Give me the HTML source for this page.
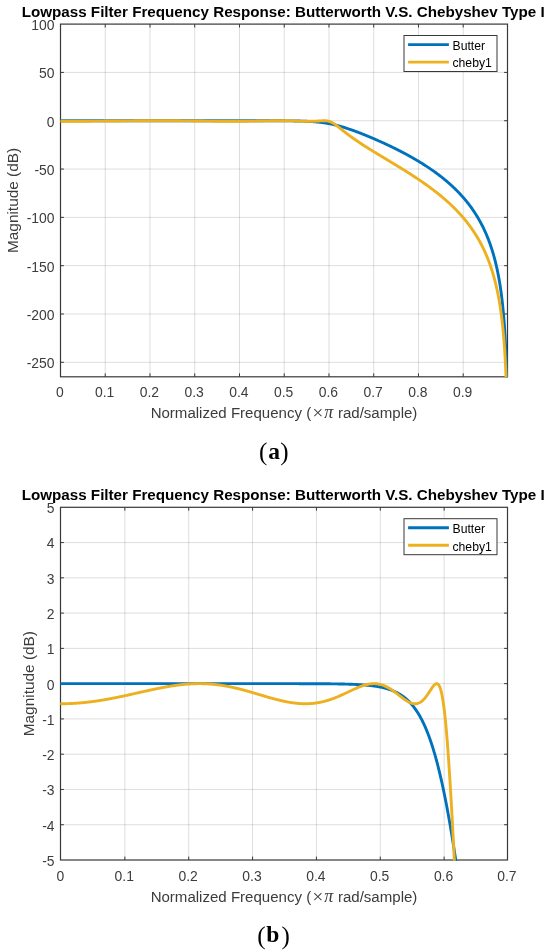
<!DOCTYPE html>
<html><head><meta charset="utf-8"><title>Lowpass Filter Frequency Response</title>
<style>
html,body{margin:0;padding:0;background:#fff}
svg{display:block}
text{font-family:"Liberation Sans",sans-serif;fill:#3c3c3c}
.tk{font-size:13.9px}
.lb{font-size:15.05px}
.yl{font-size:15.4px}
.lg{font-size:12.2px;fill:#000}
.ti{font-size:15.2px;font-weight:bold;fill:#000}
.tx{font-family:"Liberation Serif",serif;font-size:19px}
.pi{font-family:"Liberation Serif","DejaVu Serif",serif;font-style:italic;font-size:18px}
.cp{font-family:"Liberation Serif",serif;font-size:23.5px;fill:#000}
.cpb{font-weight:bold}
.cpp{font-size:25px}
</style></head><body>
<svg width="550" height="952" viewBox="0 0 550 952">
<rect width="550" height="952" fill="#fff"/>
<clipPath id="c0"><rect x="59.9" y="23.5" width="448.4" height="354.0"/></clipPath>
<path d="M105.24,24.1V376.8M149.99,24.1V376.8M194.73,24.1V376.8M239.48,24.1V376.8M284.22,24.1V376.8M328.97,24.1V376.8M373.71,24.1V376.8M418.46,24.1V376.8M463.20,24.1V376.8" stroke="#000" stroke-opacity="0.16" stroke-width="0.85" fill="none"/>
<path d="M60.5,72.42H507.5M60.5,120.73H507.5M60.5,169.05H507.5M60.5,217.36H507.5M60.5,265.68H507.5M60.5,313.99H507.5M60.5,362.31H507.5" stroke="#000" stroke-opacity="0.16" stroke-width="0.85" fill="none"/>
<path d="M105.24,376.8v-3.4M105.24,24.1v3.4M149.99,376.8v-3.4M149.99,24.1v3.4M194.73,376.8v-3.4M194.73,24.1v3.4M239.48,376.8v-3.4M239.48,24.1v3.4M284.22,376.8v-3.4M284.22,24.1v3.4M328.97,376.8v-3.4M328.97,24.1v3.4M373.71,376.8v-3.4M373.71,24.1v3.4M418.46,376.8v-3.4M418.46,24.1v3.4M463.20,376.8v-3.4M463.20,24.1v3.4M60.5,72.42h3.4M507.5,72.42h-3.4M60.5,120.73h3.4M507.5,120.73h-3.4M60.5,169.05h3.4M507.5,169.05h-3.4M60.5,217.36h3.4M507.5,217.36h-3.4M60.5,265.68h3.4M507.5,265.68h-3.4M60.5,313.99h3.4M507.5,313.99h-3.4M60.5,362.31h3.4M507.5,362.31h-3.4" stroke="#383838" stroke-width="1" fill="none"/>
<rect x="60.5" y="24.1" width="447.0" height="352.7" fill="none" stroke="#383838" stroke-width="1.2"/>
<path clip-path="url(#c0)" d="M60.50,120.73 L60.87,120.73 L61.24,120.73 L61.61,120.73 L61.98,120.73 L62.35,120.73 L62.72,120.73 L63.09,120.73 L63.46,120.73 L63.83,120.73 L64.19,120.73 L64.56,120.73 L64.93,120.73 L65.30,120.73 L65.67,120.73 L66.04,120.73 L66.41,120.73 L66.78,120.73 L67.15,120.73 L67.52,120.73 L67.89,120.73 L68.26,120.73 L68.63,120.73 L69.00,120.73 L69.37,120.73 L69.74,120.73 L70.11,120.73 L70.48,120.73 L70.84,120.73 L71.21,120.73 L71.58,120.73 L71.95,120.73 L72.32,120.73 L72.69,120.73 L73.06,120.73 L73.43,120.73 L73.80,120.73 L74.17,120.73 L74.54,120.73 L74.91,120.73 L75.28,120.73 L75.65,120.73 L76.02,120.73 L76.39,120.73 L76.76,120.73 L77.13,120.73 L77.49,120.73 L77.86,120.73 L78.23,120.73 L78.60,120.73 L78.97,120.73 L79.34,120.73 L79.71,120.73 L80.08,120.73 L80.45,120.73 L80.82,120.73 L81.19,120.73 L81.56,120.73 L81.93,120.73 L82.30,120.73 L82.67,120.73 L83.04,120.73 L83.41,120.73 L83.78,120.73 L84.14,120.73 L84.51,120.73 L84.88,120.73 L85.25,120.73 L85.62,120.73 L85.99,120.73 L86.36,120.73 L86.73,120.73 L87.10,120.73 L87.47,120.73 L87.84,120.73 L88.21,120.73 L88.58,120.73 L88.95,120.73 L89.32,120.73 L89.69,120.73 L90.06,120.73 L90.43,120.73 L90.80,120.73 L91.16,120.73 L91.53,120.73 L91.90,120.73 L92.27,120.73 L92.64,120.73 L93.01,120.73 L93.38,120.73 L93.75,120.73 L94.12,120.73 L94.49,120.73 L94.86,120.73 L95.23,120.73 L95.60,120.73 L95.97,120.73 L96.34,120.73 L96.71,120.73 L97.08,120.73 L97.45,120.73 L97.81,120.73 L98.18,120.73 L98.55,120.73 L98.92,120.73 L99.29,120.73 L99.66,120.73 L100.03,120.73 L100.40,120.73 L100.77,120.73 L101.14,120.73 L101.51,120.73 L101.88,120.73 L102.25,120.73 L102.62,120.73 L102.99,120.73 L103.36,120.73 L103.73,120.73 L104.10,120.73 L104.46,120.73 L104.83,120.73 L105.20,120.73 L105.57,120.73 L105.94,120.73 L106.31,120.73 L106.68,120.73 L107.05,120.73 L107.42,120.73 L107.79,120.73 L108.16,120.73 L108.53,120.73 L108.90,120.73 L109.27,120.73 L109.64,120.73 L110.01,120.73 L110.38,120.73 L110.75,120.73 L111.11,120.73 L111.48,120.73 L111.85,120.73 L112.22,120.73 L112.59,120.73 L112.96,120.73 L113.33,120.73 L113.70,120.73 L114.07,120.73 L114.44,120.73 L114.81,120.73 L115.18,120.73 L115.55,120.73 L115.92,120.73 L116.29,120.73 L116.66,120.73 L117.03,120.73 L117.40,120.73 L117.77,120.73 L118.13,120.73 L118.50,120.73 L118.87,120.73 L119.24,120.73 L119.61,120.73 L119.98,120.73 L120.35,120.73 L120.72,120.73 L121.09,120.73 L121.46,120.73 L121.83,120.73 L122.20,120.73 L122.57,120.73 L122.94,120.73 L123.31,120.73 L123.68,120.73 L124.05,120.73 L124.42,120.73 L124.78,120.73 L125.15,120.73 L125.52,120.73 L125.89,120.73 L126.26,120.73 L126.63,120.73 L127.00,120.73 L127.37,120.73 L127.74,120.73 L128.11,120.73 L128.48,120.73 L128.85,120.73 L129.22,120.73 L129.59,120.73 L129.96,120.73 L130.33,120.73 L130.70,120.73 L131.07,120.73 L131.43,120.73 L131.80,120.73 L132.17,120.73 L132.54,120.73 L132.91,120.73 L133.28,120.73 L133.65,120.73 L134.02,120.73 L134.39,120.73 L134.76,120.73 L135.13,120.73 L135.50,120.73 L135.87,120.73 L136.24,120.73 L136.61,120.73 L136.98,120.73 L137.35,120.73 L137.72,120.73 L138.08,120.73 L138.45,120.73 L138.82,120.73 L139.19,120.73 L139.56,120.73 L139.93,120.73 L140.30,120.73 L140.67,120.73 L141.04,120.73 L141.41,120.73 L141.78,120.73 L142.15,120.73 L142.52,120.73 L142.89,120.73 L143.26,120.73 L143.63,120.73 L144.00,120.73 L144.37,120.73 L144.74,120.73 L145.10,120.73 L145.47,120.73 L145.84,120.73 L146.21,120.73 L146.58,120.73 L146.95,120.73 L147.32,120.73 L147.69,120.73 L148.06,120.73 L148.43,120.73 L148.80,120.73 L149.17,120.73 L149.54,120.73 L149.91,120.73 L150.28,120.73 L150.65,120.73 L151.02,120.73 L151.39,120.73 L151.75,120.73 L152.12,120.73 L152.49,120.73 L152.86,120.73 L153.23,120.73 L153.60,120.73 L153.97,120.73 L154.34,120.73 L154.71,120.73 L155.08,120.73 L155.45,120.73 L155.82,120.73 L156.19,120.73 L156.56,120.73 L156.93,120.73 L157.30,120.73 L157.67,120.73 L158.04,120.73 L158.40,120.73 L158.77,120.73 L159.14,120.73 L159.51,120.73 L159.88,120.73 L160.25,120.73 L160.62,120.73 L160.99,120.73 L161.36,120.73 L161.73,120.73 L162.10,120.73 L162.47,120.73 L162.84,120.73 L163.21,120.73 L163.58,120.73 L163.95,120.73 L164.32,120.73 L164.69,120.73 L165.05,120.73 L165.42,120.73 L165.79,120.73 L166.16,120.73 L166.53,120.73 L166.90,120.73 L167.27,120.73 L167.64,120.73 L168.01,120.73 L168.38,120.73 L168.75,120.73 L169.12,120.73 L169.49,120.73 L169.86,120.73 L170.23,120.73 L170.60,120.73 L170.97,120.73 L171.34,120.73 L171.71,120.73 L172.07,120.73 L172.44,120.73 L172.81,120.73 L173.18,120.73 L173.55,120.73 L173.92,120.73 L174.29,120.73 L174.66,120.73 L175.03,120.73 L175.40,120.73 L175.77,120.73 L176.14,120.73 L176.51,120.73 L176.88,120.73 L177.25,120.73 L177.62,120.73 L177.99,120.73 L178.36,120.73 L178.72,120.73 L179.09,120.73 L179.46,120.73 L179.83,120.73 L180.20,120.73 L180.57,120.73 L180.94,120.73 L181.31,120.73 L181.68,120.73 L182.05,120.73 L182.42,120.73 L182.79,120.73 L183.16,120.73 L183.53,120.73 L183.90,120.73 L184.27,120.73 L184.64,120.73 L185.01,120.73 L185.37,120.73 L185.74,120.73 L186.11,120.73 L186.48,120.73 L186.85,120.73 L187.22,120.73 L187.59,120.73 L187.96,120.73 L188.33,120.73 L188.70,120.73 L189.07,120.73 L189.44,120.73 L189.81,120.73 L190.18,120.73 L190.55,120.73 L190.92,120.73 L191.29,120.73 L191.66,120.73 L192.02,120.73 L192.39,120.73 L192.76,120.73 L193.13,120.73 L193.50,120.73 L193.87,120.73 L194.24,120.73 L194.61,120.73 L194.98,120.73 L195.35,120.73 L195.72,120.73 L196.09,120.73 L196.46,120.73 L196.83,120.73 L197.20,120.73 L197.57,120.73 L197.94,120.73 L198.31,120.73 L198.68,120.73 L199.04,120.73 L199.41,120.73 L199.78,120.73 L200.15,120.73 L200.52,120.73 L200.89,120.73 L201.26,120.73 L201.63,120.73 L202.00,120.73 L202.37,120.73 L202.74,120.73 L203.11,120.73 L203.48,120.73 L203.85,120.73 L204.22,120.73 L204.59,120.73 L204.96,120.73 L205.33,120.73 L205.69,120.73 L206.06,120.73 L206.43,120.73 L206.80,120.73 L207.17,120.73 L207.54,120.73 L207.91,120.73 L208.28,120.73 L208.65,120.73 L209.02,120.73 L209.39,120.73 L209.76,120.73 L210.13,120.73 L210.50,120.73 L210.87,120.73 L211.24,120.73 L211.61,120.73 L211.98,120.73 L212.34,120.73 L212.71,120.73 L213.08,120.73 L213.45,120.73 L213.82,120.73 L214.19,120.73 L214.56,120.73 L214.93,120.73 L215.30,120.73 L215.67,120.73 L216.04,120.73 L216.41,120.73 L216.78,120.73 L217.15,120.73 L217.52,120.73 L217.89,120.73 L218.26,120.73 L218.63,120.73 L218.99,120.73 L219.36,120.73 L219.73,120.73 L220.10,120.73 L220.47,120.73 L220.84,120.73 L221.21,120.73 L221.58,120.73 L221.95,120.73 L222.32,120.73 L222.69,120.73 L223.06,120.73 L223.43,120.73 L223.80,120.73 L224.17,120.73 L224.54,120.73 L224.91,120.73 L225.28,120.73 L225.65,120.73 L226.01,120.73 L226.38,120.73 L226.75,120.73 L227.12,120.73 L227.49,120.73 L227.86,120.73 L228.23,120.73 L228.60,120.73 L228.97,120.73 L229.34,120.73 L229.71,120.73 L230.08,120.73 L230.45,120.73 L230.82,120.73 L231.19,120.73 L231.56,120.73 L231.93,120.73 L232.30,120.73 L232.66,120.73 L233.03,120.73 L233.40,120.73 L233.77,120.73 L234.14,120.73 L234.51,120.73 L234.88,120.73 L235.25,120.73 L235.62,120.73 L235.99,120.73 L236.36,120.73 L236.73,120.73 L237.10,120.73 L237.47,120.73 L237.84,120.73 L238.21,120.73 L238.58,120.73 L238.95,120.73 L239.31,120.73 L239.68,120.73 L240.05,120.73 L240.42,120.73 L240.79,120.73 L241.16,120.73 L241.53,120.73 L241.90,120.73 L242.27,120.73 L242.64,120.73 L243.01,120.73 L243.38,120.73 L243.75,120.73 L244.12,120.73 L244.49,120.73 L244.86,120.73 L245.23,120.73 L245.60,120.73 L245.96,120.73 L246.33,120.73 L246.70,120.73 L247.07,120.73 L247.44,120.73 L247.81,120.73 L248.18,120.73 L248.55,120.73 L248.92,120.73 L249.29,120.73 L249.66,120.73 L250.03,120.74 L250.40,120.74 L250.77,120.74 L251.14,120.74 L251.51,120.74 L251.88,120.74 L252.25,120.74 L252.62,120.74 L252.98,120.74 L253.35,120.74 L253.72,120.74 L254.09,120.74 L254.46,120.74 L254.83,120.74 L255.20,120.74 L255.57,120.74 L255.94,120.74 L256.31,120.74 L256.68,120.74 L257.05,120.74 L257.42,120.74 L257.79,120.74 L258.16,120.74 L258.53,120.74 L258.90,120.74 L259.27,120.74 L259.63,120.74 L260.00,120.74 L260.37,120.74 L260.74,120.74 L261.11,120.74 L261.48,120.74 L261.85,120.74 L262.22,120.74 L262.59,120.74 L262.96,120.75 L263.33,120.75 L263.70,120.75 L264.07,120.75 L264.44,120.75 L264.81,120.75 L265.18,120.75 L265.55,120.75 L265.92,120.75 L266.28,120.75 L266.65,120.75 L267.02,120.75 L267.39,120.75 L267.76,120.75 L268.13,120.75 L268.50,120.75 L268.87,120.75 L269.24,120.76 L269.61,120.76 L269.98,120.76 L270.35,120.76 L270.72,120.76 L271.09,120.76 L271.46,120.76 L271.83,120.76 L272.20,120.76 L272.57,120.76 L272.93,120.77 L273.30,120.77 L273.67,120.77 L274.04,120.77 L274.41,120.77 L274.78,120.77 L275.15,120.77 L275.52,120.77 L275.89,120.77 L276.26,120.78 L276.63,120.78 L277.00,120.78 L277.37,120.78 L277.74,120.78 L278.11,120.78 L278.48,120.79 L278.85,120.79 L279.22,120.79 L279.59,120.79 L279.95,120.79 L280.32,120.79 L280.69,120.80 L281.06,120.80 L281.43,120.80 L281.80,120.80 L282.17,120.81 L282.54,120.81 L282.91,120.81 L283.28,120.81 L283.65,120.82 L284.02,120.82 L284.39,120.82 L284.76,120.82 L285.13,120.83 L285.50,120.83 L285.87,120.83 L286.24,120.84 L286.60,120.84 L286.97,120.84 L287.34,120.85 L287.71,120.85 L288.08,120.85 L288.45,120.86 L288.82,120.86 L289.19,120.87 L289.56,120.87 L289.93,120.87 L290.30,120.88 L290.67,120.88 L291.04,120.89 L291.41,120.89 L291.78,120.90 L292.15,120.90 L292.52,120.91 L292.89,120.91 L293.25,120.92 L293.62,120.93 L293.99,120.93 L294.36,120.94 L294.73,120.94 L295.10,120.95 L295.47,120.96 L295.84,120.97 L296.21,120.97 L296.58,120.98 L296.95,120.99 L297.32,121.00 L297.69,121.00 L298.06,121.01 L298.43,121.02 L298.80,121.03 L299.17,121.04 L299.54,121.05 L299.90,121.06 L300.27,121.07 L300.64,121.08 L301.01,121.09 L301.38,121.10 L301.75,121.11 L302.12,121.12 L302.49,121.13 L302.86,121.15 L303.23,121.16 L303.60,121.17 L303.97,121.19 L304.34,121.20 L304.71,121.21 L305.08,121.23 L305.45,121.24 L305.82,121.26 L306.19,121.28 L306.56,121.29 L306.92,121.31 L307.29,121.33 L307.66,121.34 L308.03,121.36 L308.40,121.38 L308.77,121.40 L309.14,121.42 L309.51,121.44 L309.88,121.46 L310.25,121.48 L310.62,121.50 L310.99,121.53 L311.36,121.55 L311.73,121.57 L312.10,121.60 L312.47,121.62 L312.84,121.65 L313.21,121.68 L313.57,121.70 L313.94,121.73 L314.31,121.76 L314.68,121.79 L315.05,121.82 L315.42,121.85 L315.79,121.88 L316.16,121.92 L316.53,121.95 L316.90,121.98 L317.27,122.02 L317.64,122.05 L318.01,122.09 L318.38,122.13 L318.75,122.17 L319.12,122.21 L319.49,122.25 L319.86,122.29 L320.22,122.33 L320.59,122.37 L320.96,122.42 L321.33,122.46 L321.70,122.51 L322.07,122.56 L322.44,122.60 L322.81,122.65 L323.18,122.70 L323.55,122.76 L323.92,122.81 L324.29,122.86 L324.66,122.92 L325.03,122.97 L325.40,123.03 L325.77,123.09 L326.14,123.15 L326.51,123.21 L326.87,123.27 L327.24,123.33 L327.61,123.40 L327.98,123.46 L328.35,123.53 L328.72,123.59 L329.09,123.66 L329.46,123.73 L329.83,123.80 L330.20,123.87 L330.57,123.95 L330.94,124.02 L331.31,124.10 L331.68,124.17 L332.05,124.25 L332.42,124.33 L332.79,124.41 L333.16,124.49 L333.53,124.58 L333.89,124.66 L334.26,124.75 L334.63,124.83 L335.00,124.92 L335.37,125.01 L335.74,125.10 L336.11,125.19 L336.48,125.28 L336.85,125.37 L337.22,125.47 L337.59,125.56 L337.96,125.66 L338.33,125.76 L338.70,125.86 L339.07,125.96 L339.44,126.06 L339.81,126.16 L340.18,126.26 L340.54,126.37 L340.91,126.47 L341.28,126.58 L341.65,126.68 L342.02,126.79 L342.39,126.90 L342.76,127.01 L343.13,127.12 L343.50,127.24 L343.87,127.35 L344.24,127.46 L344.61,127.58 L344.98,127.69 L345.35,127.81 L345.72,127.93 L346.09,128.05 L346.46,128.16 L346.83,128.28 L347.19,128.41 L347.56,128.53 L347.93,128.65 L348.30,128.77 L348.67,128.90 L349.04,129.02 L349.41,129.15 L349.78,129.27 L350.15,129.40 L350.52,129.53 L350.89,129.66 L351.26,129.79 L351.63,129.92 L352.00,130.05 L352.37,130.18 L352.74,130.31 L353.11,130.44 L353.48,130.58 L353.84,130.71 L354.21,130.85 L354.58,130.98 L354.95,131.12 L355.32,131.25 L355.69,131.39 L356.06,131.53 L356.43,131.67 L356.80,131.80 L357.17,131.94 L357.54,132.08 L357.91,132.22 L358.28,132.36 L358.65,132.51 L359.02,132.65 L359.39,132.79 L359.76,132.93 L360.13,133.08 L360.50,133.22 L360.86,133.36 L361.23,133.51 L361.60,133.65 L361.97,133.80 L362.34,133.95 L362.71,134.09 L363.08,134.24 L363.45,134.39 L363.82,134.54 L364.19,134.68 L364.56,134.83 L364.93,134.98 L365.30,135.13 L365.67,135.28 L366.04,135.43 L366.41,135.59 L366.78,135.74 L367.15,135.89 L367.51,136.04 L367.88,136.19 L368.25,136.35 L368.62,136.50 L368.99,136.65 L369.36,136.81 L369.73,136.96 L370.10,137.12 L370.47,137.27 L370.84,137.43 L371.21,137.59 L371.58,137.74 L371.95,137.90 L372.32,138.06 L372.69,138.22 L373.06,138.37 L373.43,138.53 L373.80,138.69 L374.16,138.85 L374.53,139.01 L374.90,139.17 L375.27,139.33 L375.64,139.49 L376.01,139.66 L376.38,139.82 L376.75,139.98 L377.12,140.14 L377.49,140.31 L377.86,140.47 L378.23,140.63 L378.60,140.80 L378.97,140.96 L379.34,141.13 L379.71,141.29 L380.08,141.46 L380.45,141.62 L380.81,141.79 L381.18,141.96 L381.55,142.12 L381.92,142.29 L382.29,142.46 L382.66,142.63 L383.03,142.80 L383.40,142.97 L383.77,143.13 L384.14,143.30 L384.51,143.48 L384.88,143.65 L385.25,143.82 L385.62,143.99 L385.99,144.16 L386.36,144.33 L386.73,144.51 L387.10,144.68 L387.47,144.85 L387.83,145.03 L388.20,145.20 L388.57,145.38 L388.94,145.55 L389.31,145.73 L389.68,145.90 L390.05,146.08 L390.42,146.26 L390.79,146.44 L391.16,146.61 L391.53,146.79 L391.90,146.97 L392.27,147.15 L392.64,147.33 L393.01,147.51 L393.38,147.69 L393.75,147.87 L394.12,148.06 L394.48,148.24 L394.85,148.42 L395.22,148.60 L395.59,148.79 L395.96,148.97 L396.33,149.16 L396.70,149.34 L397.07,149.53 L397.44,149.71 L397.81,149.90 L398.18,150.09 L398.55,150.27 L398.92,150.46 L399.29,150.65 L399.66,150.84 L400.03,151.03 L400.40,151.22 L400.77,151.41 L401.13,151.60 L401.50,151.79 L401.87,151.99 L402.24,152.18 L402.61,152.37 L402.98,152.57 L403.35,152.76 L403.72,152.96 L404.09,153.15 L404.46,153.35 L404.83,153.54 L405.20,153.74 L405.57,153.94 L405.94,154.14 L406.31,154.34 L406.68,154.54 L407.05,154.74 L407.42,154.94 L407.78,155.14 L408.15,155.34 L408.52,155.55 L408.89,155.75 L409.26,155.95 L409.63,156.16 L410.00,156.36 L410.37,156.57 L410.74,156.78 L411.11,156.98 L411.48,157.19 L411.85,157.40 L412.22,157.61 L412.59,157.82 L412.96,158.03 L413.33,158.24 L413.70,158.45 L414.07,158.67 L414.44,158.88 L414.80,159.10 L415.17,159.31 L415.54,159.53 L415.91,159.74 L416.28,159.96 L416.65,160.18 L417.02,160.40 L417.39,160.62 L417.76,160.84 L418.13,161.06 L418.50,161.28 L418.87,161.50 L419.24,161.73 L419.61,161.95 L419.98,162.18 L420.35,162.40 L420.72,162.63 L421.09,162.86 L421.45,163.08 L421.82,163.31 L422.19,163.54 L422.56,163.78 L422.93,164.01 L423.30,164.24 L423.67,164.47 L424.04,164.71 L424.41,164.94 L424.78,165.18 L425.15,165.42 L425.52,165.66 L425.89,165.90 L426.26,166.14 L426.63,166.38 L427.00,166.62 L427.37,166.86 L427.74,167.11 L428.10,167.35 L428.47,167.60 L428.84,167.85 L429.21,168.09 L429.58,168.34 L429.95,168.59 L430.32,168.84 L430.69,169.10 L431.06,169.35 L431.43,169.61 L431.80,169.86 L432.17,170.12 L432.54,170.38 L432.91,170.64 L433.28,170.90 L433.65,171.16 L434.02,171.42 L434.39,171.68 L434.75,171.95 L435.12,172.22 L435.49,172.48 L435.86,172.75 L436.23,173.02 L436.60,173.29 L436.97,173.57 L437.34,173.84 L437.71,174.12 L438.08,174.39 L438.45,174.67 L438.82,174.95 L439.19,175.23 L439.56,175.51 L439.93,175.80 L440.30,176.08 L440.67,176.37 L441.04,176.65 L441.41,176.94 L441.77,177.23 L442.14,177.53 L442.51,177.82 L442.88,178.12 L443.25,178.41 L443.62,178.71 L443.99,179.01 L444.36,179.31 L444.73,179.62 L445.10,179.92 L445.47,180.23 L445.84,180.54 L446.21,180.85 L446.58,181.16 L446.95,181.47 L447.32,181.79 L447.69,182.11 L448.06,182.42 L448.42,182.75 L448.79,183.07 L449.16,183.39 L449.53,183.72 L449.90,184.05 L450.27,184.38 L450.64,184.71 L451.01,185.05 L451.38,185.38 L451.75,185.72 L452.12,186.06 L452.49,186.40 L452.86,186.75 L453.23,187.10 L453.60,187.45 L453.97,187.80 L454.34,188.15 L454.71,188.51 L455.07,188.87 L455.44,189.23 L455.81,189.59 L456.18,189.96 L456.55,190.33 L456.92,190.70 L457.29,191.07 L457.66,191.45 L458.03,191.83 L458.40,192.21 L458.77,192.60 L459.14,192.98 L459.51,193.37 L459.88,193.77 L460.25,194.16 L460.62,194.56 L460.99,194.96 L461.36,195.37 L461.72,195.78 L462.09,196.19 L462.46,196.60 L462.83,197.02 L463.20,197.44 L463.57,197.87 L463.94,198.29 L464.31,198.72 L464.68,199.16 L465.05,199.60 L465.42,200.04 L465.79,200.49 L466.16,200.94 L466.53,201.39 L466.90,201.85 L467.27,202.31 L467.64,202.77 L468.01,203.24 L468.38,203.72 L468.74,204.20 L469.11,204.68 L469.48,205.17 L469.85,205.66 L470.22,206.16 L470.59,206.66 L470.96,207.16 L471.33,207.67 L471.70,208.19 L472.07,208.71 L472.44,209.24 L472.81,209.77 L473.18,210.31 L473.55,210.85 L473.92,211.40 L474.29,211.96 L474.66,212.52 L475.03,213.08 L475.39,213.66 L475.76,214.24 L476.13,214.82 L476.50,215.42 L476.87,216.02 L477.24,216.62 L477.61,217.24 L477.98,217.86 L478.35,218.49 L478.72,219.13 L479.09,219.77 L479.46,220.42 L479.83,221.09 L480.20,221.76 L480.57,222.44 L480.94,223.12 L481.31,223.82 L481.68,224.53 L482.04,225.25 L482.41,225.97 L482.78,226.71 L483.15,227.46 L483.52,228.22 L483.89,228.99 L484.26,229.77 L484.63,230.57 L485.00,231.38 L485.37,232.20 L485.74,233.03 L486.11,233.88 L486.48,234.74 L486.85,235.62 L487.22,236.51 L487.59,237.42 L487.96,238.35 L488.33,239.29 L488.69,240.25 L489.06,241.23 L489.43,242.23 L489.80,243.24 L490.17,244.28 L490.54,245.34 L490.91,246.43 L491.28,247.53 L491.65,248.66 L492.02,249.82 L492.39,251.01 L492.76,252.22 L493.13,253.46 L493.50,254.74 L493.87,256.04 L494.24,257.38 L494.61,258.76 L494.98,260.18 L495.35,261.63 L495.71,263.13 L496.08,264.68 L496.45,266.28 L496.82,267.92 L497.19,269.62 L497.56,271.39 L497.93,273.21 L498.30,275.11 L498.67,277.07 L499.04,279.12 L499.41,281.26 L499.78,283.49 L500.15,285.82 L500.52,288.26 L500.89,290.83 L501.26,293.54 L501.63,296.40 L502.00,299.43 L502.36,302.66 L502.73,306.11 L503.10,309.81 L503.47,313.81 L503.47,313.81 L503.63,315.55 L503.77,317.30 L503.91,319.04 L504.05,320.79 L504.18,322.53 L504.31,324.27 L504.44,326.02 L504.56,327.76 L504.67,329.50 L504.78,331.25 L504.89,332.99 L504.99,334.74 L505.09,336.48 L505.19,338.22 L505.29,339.97 L505.38,341.71 L505.46,343.46 L505.55,345.20 L505.63,346.94 L505.71,348.69 L505.78,350.43 L505.86,352.17 L505.93,353.92 L506.00,355.66 L506.06,357.41 L506.13,359.15 L506.19,360.89 L506.25,362.64 L506.31,364.38 L506.36,366.12 L506.42,367.87 L506.47,369.61 L506.52,371.36 L506.57,373.10 L506.62,374.84 L506.66,376.59 L506.70,378.33 L506.75,380.07 L506.79,381.82 L506.83,383.56 L506.87,385.31 L506.90,387.05 L506.94,388.79 L506.97,390.54 L507.01,392.28 L507.04,394.02 L507.07,395.77 L507.10,396.13 L507.13,396.13 L507.16,396.13 L507.18,396.13 L507.21,396.13 L507.23,396.13 L507.26,396.13 L507.28,396.13 L507.30,396.13 L507.33,396.13 L507.35,396.13 L507.37,396.13 L507.39,396.13 L507.41,396.13 L507.42,396.13 L507.44,396.13 L507.46,396.13 L507.48,396.13 L507.49,396.13" stroke="#0072BD" stroke-width="2.9" fill="none" stroke-linejoin="round"/>
<path clip-path="url(#c0)" d="M60.50,121.28 L60.87,121.28 L61.24,121.28 L61.61,121.28 L61.98,121.28 L62.35,121.28 L62.72,121.28 L63.09,121.28 L63.46,121.28 L63.83,121.28 L64.19,121.28 L64.56,121.28 L64.93,121.28 L65.30,121.28 L65.67,121.28 L66.04,121.28 L66.41,121.28 L66.78,121.28 L67.15,121.28 L67.52,121.27 L67.89,121.27 L68.26,121.27 L68.63,121.27 L69.00,121.27 L69.37,121.27 L69.74,121.27 L70.11,121.27 L70.48,121.27 L70.84,121.27 L71.21,121.27 L71.58,121.27 L71.95,121.27 L72.32,121.26 L72.69,121.26 L73.06,121.26 L73.43,121.26 L73.80,121.26 L74.17,121.26 L74.54,121.26 L74.91,121.26 L75.28,121.25 L75.65,121.25 L76.02,121.25 L76.39,121.25 L76.76,121.25 L77.13,121.25 L77.49,121.25 L77.86,121.25 L78.23,121.24 L78.60,121.24 L78.97,121.24 L79.34,121.24 L79.71,121.24 L80.08,121.24 L80.45,121.23 L80.82,121.23 L81.19,121.23 L81.56,121.23 L81.93,121.23 L82.30,121.22 L82.67,121.22 L83.04,121.22 L83.41,121.22 L83.78,121.22 L84.14,121.22 L84.51,121.21 L84.88,121.21 L85.25,121.21 L85.62,121.21 L85.99,121.21 L86.36,121.20 L86.73,121.20 L87.10,121.20 L87.47,121.20 L87.84,121.19 L88.21,121.19 L88.58,121.19 L88.95,121.19 L89.32,121.19 L89.69,121.18 L90.06,121.18 L90.43,121.18 L90.80,121.18 L91.16,121.17 L91.53,121.17 L91.90,121.17 L92.27,121.17 L92.64,121.16 L93.01,121.16 L93.38,121.16 L93.75,121.16 L94.12,121.15 L94.49,121.15 L94.86,121.15 L95.23,121.14 L95.60,121.14 L95.97,121.14 L96.34,121.14 L96.71,121.13 L97.08,121.13 L97.45,121.13 L97.81,121.13 L98.18,121.12 L98.55,121.12 L98.92,121.12 L99.29,121.11 L99.66,121.11 L100.03,121.11 L100.40,121.11 L100.77,121.10 L101.14,121.10 L101.51,121.10 L101.88,121.09 L102.25,121.09 L102.62,121.09 L102.99,121.08 L103.36,121.08 L103.73,121.08 L104.10,121.07 L104.46,121.07 L104.83,121.07 L105.20,121.07 L105.57,121.06 L105.94,121.06 L106.31,121.06 L106.68,121.05 L107.05,121.05 L107.42,121.05 L107.79,121.04 L108.16,121.04 L108.53,121.04 L108.90,121.03 L109.27,121.03 L109.64,121.03 L110.01,121.02 L110.38,121.02 L110.75,121.02 L111.11,121.01 L111.48,121.01 L111.85,121.01 L112.22,121.01 L112.59,121.00 L112.96,121.00 L113.33,121.00 L113.70,120.99 L114.07,120.99 L114.44,120.99 L114.81,120.98 L115.18,120.98 L115.55,120.98 L115.92,120.97 L116.29,120.97 L116.66,120.97 L117.03,120.96 L117.40,120.96 L117.77,120.96 L118.13,120.95 L118.50,120.95 L118.87,120.95 L119.24,120.94 L119.61,120.94 L119.98,120.94 L120.35,120.93 L120.72,120.93 L121.09,120.93 L121.46,120.92 L121.83,120.92 L122.20,120.92 L122.57,120.91 L122.94,120.91 L123.31,120.91 L123.68,120.91 L124.05,120.90 L124.42,120.90 L124.78,120.90 L125.15,120.89 L125.52,120.89 L125.89,120.89 L126.26,120.88 L126.63,120.88 L127.00,120.88 L127.37,120.87 L127.74,120.87 L128.11,120.87 L128.48,120.87 L128.85,120.86 L129.22,120.86 L129.59,120.86 L129.96,120.85 L130.33,120.85 L130.70,120.85 L131.07,120.85 L131.43,120.84 L131.80,120.84 L132.17,120.84 L132.54,120.83 L132.91,120.83 L133.28,120.83 L133.65,120.83 L134.02,120.82 L134.39,120.82 L134.76,120.82 L135.13,120.82 L135.50,120.81 L135.87,120.81 L136.24,120.81 L136.61,120.81 L136.98,120.80 L137.35,120.80 L137.72,120.80 L138.08,120.80 L138.45,120.79 L138.82,120.79 L139.19,120.79 L139.56,120.79 L139.93,120.79 L140.30,120.78 L140.67,120.78 L141.04,120.78 L141.41,120.78 L141.78,120.78 L142.15,120.77 L142.52,120.77 L142.89,120.77 L143.26,120.77 L143.63,120.77 L144.00,120.76 L144.37,120.76 L144.74,120.76 L145.10,120.76 L145.47,120.76 L145.84,120.76 L146.21,120.75 L146.58,120.75 L146.95,120.75 L147.32,120.75 L147.69,120.75 L148.06,120.75 L148.43,120.75 L148.80,120.75 L149.17,120.74 L149.54,120.74 L149.91,120.74 L150.28,120.74 L150.65,120.74 L151.02,120.74 L151.39,120.74 L151.75,120.74 L152.12,120.74 L152.49,120.74 L152.86,120.73 L153.23,120.73 L153.60,120.73 L153.97,120.73 L154.34,120.73 L154.71,120.73 L155.08,120.73 L155.45,120.73 L155.82,120.73 L156.19,120.73 L156.56,120.73 L156.93,120.73 L157.30,120.73 L157.67,120.73 L158.04,120.73 L158.40,120.73 L158.77,120.73 L159.14,120.73 L159.51,120.73 L159.88,120.73 L160.25,120.73 L160.62,120.73 L160.99,120.73 L161.36,120.73 L161.73,120.73 L162.10,120.73 L162.47,120.73 L162.84,120.73 L163.21,120.74 L163.58,120.74 L163.95,120.74 L164.32,120.74 L164.69,120.74 L165.05,120.74 L165.42,120.74 L165.79,120.74 L166.16,120.74 L166.53,120.74 L166.90,120.75 L167.27,120.75 L167.64,120.75 L168.01,120.75 L168.38,120.75 L168.75,120.75 L169.12,120.75 L169.49,120.76 L169.86,120.76 L170.23,120.76 L170.60,120.76 L170.97,120.76 L171.34,120.76 L171.71,120.77 L172.07,120.77 L172.44,120.77 L172.81,120.77 L173.18,120.77 L173.55,120.78 L173.92,120.78 L174.29,120.78 L174.66,120.78 L175.03,120.79 L175.40,120.79 L175.77,120.79 L176.14,120.79 L176.51,120.80 L176.88,120.80 L177.25,120.80 L177.62,120.80 L177.99,120.81 L178.36,120.81 L178.72,120.81 L179.09,120.82 L179.46,120.82 L179.83,120.82 L180.20,120.82 L180.57,120.83 L180.94,120.83 L181.31,120.83 L181.68,120.84 L182.05,120.84 L182.42,120.84 L182.79,120.85 L183.16,120.85 L183.53,120.85 L183.90,120.86 L184.27,120.86 L184.64,120.86 L185.01,120.87 L185.37,120.87 L185.74,120.87 L186.11,120.88 L186.48,120.88 L186.85,120.88 L187.22,120.89 L187.59,120.89 L187.96,120.90 L188.33,120.90 L188.70,120.90 L189.07,120.91 L189.44,120.91 L189.81,120.92 L190.18,120.92 L190.55,120.92 L190.92,120.93 L191.29,120.93 L191.66,120.94 L192.02,120.94 L192.39,120.94 L192.76,120.95 L193.13,120.95 L193.50,120.96 L193.87,120.96 L194.24,120.96 L194.61,120.97 L194.98,120.97 L195.35,120.98 L195.72,120.98 L196.09,120.99 L196.46,120.99 L196.83,120.99 L197.20,121.00 L197.57,121.00 L197.94,121.01 L198.31,121.01 L198.68,121.02 L199.04,121.02 L199.41,121.02 L199.78,121.03 L200.15,121.03 L200.52,121.04 L200.89,121.04 L201.26,121.05 L201.63,121.05 L202.00,121.05 L202.37,121.06 L202.74,121.06 L203.11,121.07 L203.48,121.07 L203.85,121.08 L204.22,121.08 L204.59,121.08 L204.96,121.09 L205.33,121.09 L205.69,121.10 L206.06,121.10 L206.43,121.10 L206.80,121.11 L207.17,121.11 L207.54,121.12 L207.91,121.12 L208.28,121.13 L208.65,121.13 L209.02,121.13 L209.39,121.14 L209.76,121.14 L210.13,121.15 L210.50,121.15 L210.87,121.15 L211.24,121.16 L211.61,121.16 L211.98,121.16 L212.34,121.17 L212.71,121.17 L213.08,121.18 L213.45,121.18 L213.82,121.18 L214.19,121.19 L214.56,121.19 L214.93,121.19 L215.30,121.20 L215.67,121.20 L216.04,121.20 L216.41,121.21 L216.78,121.21 L217.15,121.21 L217.52,121.22 L217.89,121.22 L218.26,121.22 L218.63,121.22 L218.99,121.23 L219.36,121.23 L219.73,121.23 L220.10,121.24 L220.47,121.24 L220.84,121.24 L221.21,121.24 L221.58,121.25 L221.95,121.25 L222.32,121.25 L222.69,121.25 L223.06,121.25 L223.43,121.26 L223.80,121.26 L224.17,121.26 L224.54,121.26 L224.91,121.26 L225.28,121.27 L225.65,121.27 L226.01,121.27 L226.38,121.27 L226.75,121.27 L227.12,121.27 L227.49,121.27 L227.86,121.27 L228.23,121.28 L228.60,121.28 L228.97,121.28 L229.34,121.28 L229.71,121.28 L230.08,121.28 L230.45,121.28 L230.82,121.28 L231.19,121.28 L231.56,121.28 L231.93,121.28 L232.30,121.28 L232.66,121.28 L233.03,121.28 L233.40,121.28 L233.77,121.28 L234.14,121.28 L234.51,121.28 L234.88,121.28 L235.25,121.28 L235.62,121.28 L235.99,121.28 L236.36,121.27 L236.73,121.27 L237.10,121.27 L237.47,121.27 L237.84,121.27 L238.21,121.27 L238.58,121.27 L238.95,121.26 L239.31,121.26 L239.68,121.26 L240.05,121.26 L240.42,121.26 L240.79,121.25 L241.16,121.25 L241.53,121.25 L241.90,121.25 L242.27,121.24 L242.64,121.24 L243.01,121.24 L243.38,121.23 L243.75,121.23 L244.12,121.23 L244.49,121.22 L244.86,121.22 L245.23,121.22 L245.60,121.21 L245.96,121.21 L246.33,121.21 L246.70,121.20 L247.07,121.20 L247.44,121.19 L247.81,121.19 L248.18,121.18 L248.55,121.18 L248.92,121.18 L249.29,121.17 L249.66,121.17 L250.03,121.16 L250.40,121.16 L250.77,121.15 L251.14,121.15 L251.51,121.14 L251.88,121.14 L252.25,121.13 L252.62,121.12 L252.98,121.12 L253.35,121.11 L253.72,121.11 L254.09,121.10 L254.46,121.10 L254.83,121.09 L255.20,121.08 L255.57,121.08 L255.94,121.07 L256.31,121.06 L256.68,121.06 L257.05,121.05 L257.42,121.05 L257.79,121.04 L258.16,121.03 L258.53,121.03 L258.90,121.02 L259.27,121.01 L259.63,121.01 L260.00,121.00 L260.37,120.99 L260.74,120.99 L261.11,120.98 L261.48,120.97 L261.85,120.97 L262.22,120.96 L262.59,120.95 L262.96,120.94 L263.33,120.94 L263.70,120.93 L264.07,120.92 L264.44,120.92 L264.81,120.91 L265.18,120.90 L265.55,120.90 L265.92,120.89 L266.28,120.88 L266.65,120.88 L267.02,120.87 L267.39,120.86 L267.76,120.86 L268.13,120.85 L268.50,120.85 L268.87,120.84 L269.24,120.83 L269.61,120.83 L269.98,120.82 L270.35,120.82 L270.72,120.81 L271.09,120.81 L271.46,120.80 L271.83,120.80 L272.20,120.79 L272.57,120.79 L272.93,120.78 L273.30,120.78 L273.67,120.77 L274.04,120.77 L274.41,120.76 L274.78,120.76 L275.15,120.76 L275.52,120.75 L275.89,120.75 L276.26,120.75 L276.63,120.74 L277.00,120.74 L277.37,120.74 L277.74,120.74 L278.11,120.74 L278.48,120.73 L278.85,120.73 L279.22,120.73 L279.59,120.73 L279.95,120.73 L280.32,120.73 L280.69,120.73 L281.06,120.73 L281.43,120.73 L281.80,120.73 L282.17,120.73 L282.54,120.74 L282.91,120.74 L283.28,120.74 L283.65,120.74 L284.02,120.74 L284.39,120.75 L284.76,120.75 L285.13,120.76 L285.50,120.76 L285.87,120.76 L286.24,120.77 L286.60,120.77 L286.97,120.78 L287.34,120.78 L287.71,120.79 L288.08,120.80 L288.45,120.80 L288.82,120.81 L289.19,120.82 L289.56,120.82 L289.93,120.83 L290.30,120.84 L290.67,120.85 L291.04,120.86 L291.41,120.87 L291.78,120.88 L292.15,120.88 L292.52,120.89 L292.89,120.90 L293.25,120.91 L293.62,120.92 L293.99,120.93 L294.36,120.94 L294.73,120.96 L295.10,120.97 L295.47,120.98 L295.84,120.99 L296.21,121.00 L296.58,121.01 L296.95,121.02 L297.32,121.03 L297.69,121.04 L298.06,121.05 L298.43,121.07 L298.80,121.08 L299.17,121.09 L299.54,121.10 L299.90,121.11 L300.27,121.12 L300.64,121.13 L301.01,121.14 L301.38,121.15 L301.75,121.16 L302.12,121.17 L302.49,121.18 L302.86,121.19 L303.23,121.20 L303.60,121.21 L303.97,121.22 L304.34,121.23 L304.71,121.23 L305.08,121.24 L305.45,121.25 L305.82,121.25 L306.19,121.26 L306.56,121.26 L306.92,121.27 L307.29,121.27 L307.66,121.28 L308.03,121.28 L308.40,121.28 L308.77,121.28 L309.14,121.28 L309.51,121.28 L309.88,121.28 L310.25,121.28 L310.62,121.27 L310.99,121.27 L311.36,121.27 L311.73,121.26 L312.10,121.25 L312.47,121.25 L312.84,121.24 L313.21,121.23 L313.57,121.22 L313.94,121.21 L314.31,121.19 L314.68,121.18 L315.05,121.17 L315.42,121.15 L315.79,121.14 L316.16,121.12 L316.53,121.10 L316.90,121.08 L317.27,121.06 L317.64,121.04 L318.01,121.02 L318.38,121.00 L318.75,120.98 L319.12,120.96 L319.49,120.93 L319.86,120.91 L320.22,120.89 L320.59,120.87 L320.96,120.85 L321.33,120.83 L321.70,120.81 L322.07,120.79 L322.44,120.77 L322.81,120.76 L323.18,120.75 L323.55,120.74 L323.92,120.73 L324.29,120.73 L324.66,120.73 L325.03,120.74 L325.40,120.75 L325.77,120.77 L326.14,120.80 L326.51,120.83 L326.87,120.87 L327.24,120.92 L327.61,120.98 L327.98,121.05 L328.35,121.13 L328.72,121.22 L329.09,121.32 L329.46,121.43 L329.83,121.55 L330.20,121.68 L330.57,121.83 L330.94,121.98 L331.31,122.15 L331.68,122.33 L332.05,122.52 L332.42,122.72 L332.79,122.93 L333.16,123.15 L333.53,123.38 L333.89,123.62 L334.26,123.86 L334.63,124.11 L335.00,124.37 L335.37,124.64 L335.74,124.91 L336.11,125.18 L336.48,125.46 L336.85,125.74 L337.22,126.03 L337.59,126.32 L337.96,126.61 L338.33,126.90 L338.70,127.20 L339.07,127.49 L339.44,127.79 L339.81,128.09 L340.18,128.38 L340.54,128.68 L340.91,128.98 L341.28,129.28 L341.65,129.57 L342.02,129.87 L342.39,130.17 L342.76,130.46 L343.13,130.75 L343.50,131.05 L343.87,131.34 L344.24,131.63 L344.61,131.92 L344.98,132.21 L345.35,132.50 L345.72,132.78 L346.09,133.07 L346.46,133.35 L346.83,133.64 L347.19,133.92 L347.56,134.20 L347.93,134.48 L348.30,134.75 L348.67,135.03 L349.04,135.31 L349.41,135.58 L349.78,135.85 L350.15,136.12 L350.52,136.39 L350.89,136.66 L351.26,136.93 L351.63,137.20 L352.00,137.46 L352.37,137.73 L352.74,137.99 L353.11,138.25 L353.48,138.51 L353.84,138.77 L354.21,139.03 L354.58,139.29 L354.95,139.55 L355.32,139.80 L355.69,140.06 L356.06,140.31 L356.43,140.56 L356.80,140.81 L357.17,141.07 L357.54,141.32 L357.91,141.57 L358.28,141.81 L358.65,142.06 L359.02,142.31 L359.39,142.55 L359.76,142.80 L360.13,143.04 L360.50,143.29 L360.86,143.53 L361.23,143.77 L361.60,144.01 L361.97,144.26 L362.34,144.50 L362.71,144.74 L363.08,144.97 L363.45,145.21 L363.82,145.45 L364.19,145.69 L364.56,145.92 L364.93,146.16 L365.30,146.40 L365.67,146.63 L366.04,146.87 L366.41,147.10 L366.78,147.33 L367.15,147.57 L367.51,147.80 L367.88,148.03 L368.25,148.26 L368.62,148.49 L368.99,148.72 L369.36,148.95 L369.73,149.18 L370.10,149.41 L370.47,149.64 L370.84,149.87 L371.21,150.10 L371.58,150.33 L371.95,150.56 L372.32,150.78 L372.69,151.01 L373.06,151.24 L373.43,151.47 L373.80,151.69 L374.16,151.92 L374.53,152.14 L374.90,152.37 L375.27,152.60 L375.64,152.82 L376.01,153.05 L376.38,153.27 L376.75,153.49 L377.12,153.72 L377.49,153.94 L377.86,154.17 L378.23,154.39 L378.60,154.61 L378.97,154.84 L379.34,155.06 L379.71,155.29 L380.08,155.51 L380.45,155.73 L380.81,155.95 L381.18,156.18 L381.55,156.40 L381.92,156.62 L382.29,156.84 L382.66,157.07 L383.03,157.29 L383.40,157.51 L383.77,157.73 L384.14,157.96 L384.51,158.18 L384.88,158.40 L385.25,158.62 L385.62,158.85 L385.99,159.07 L386.36,159.29 L386.73,159.51 L387.10,159.73 L387.47,159.96 L387.83,160.18 L388.20,160.40 L388.57,160.62 L388.94,160.85 L389.31,161.07 L389.68,161.29 L390.05,161.51 L390.42,161.74 L390.79,161.96 L391.16,162.18 L391.53,162.41 L391.90,162.63 L392.27,162.85 L392.64,163.08 L393.01,163.30 L393.38,163.52 L393.75,163.75 L394.12,163.97 L394.48,164.19 L394.85,164.42 L395.22,164.64 L395.59,164.87 L395.96,165.09 L396.33,165.32 L396.70,165.54 L397.07,165.77 L397.44,165.99 L397.81,166.22 L398.18,166.44 L398.55,166.67 L398.92,166.90 L399.29,167.12 L399.66,167.35 L400.03,167.58 L400.40,167.80 L400.77,168.03 L401.13,168.26 L401.50,168.49 L401.87,168.72 L402.24,168.95 L402.61,169.17 L402.98,169.40 L403.35,169.63 L403.72,169.86 L404.09,170.09 L404.46,170.32 L404.83,170.55 L405.20,170.79 L405.57,171.02 L405.94,171.25 L406.31,171.48 L406.68,171.71 L407.05,171.95 L407.42,172.18 L407.78,172.41 L408.15,172.65 L408.52,172.88 L408.89,173.12 L409.26,173.35 L409.63,173.59 L410.00,173.83 L410.37,174.06 L410.74,174.30 L411.11,174.54 L411.48,174.78 L411.85,175.01 L412.22,175.25 L412.59,175.49 L412.96,175.73 L413.33,175.97 L413.70,176.21 L414.07,176.46 L414.44,176.70 L414.80,176.94 L415.17,177.18 L415.54,177.43 L415.91,177.67 L416.28,177.92 L416.65,178.16 L417.02,178.41 L417.39,178.65 L417.76,178.90 L418.13,179.15 L418.50,179.40 L418.87,179.65 L419.24,179.90 L419.61,180.15 L419.98,180.40 L420.35,180.65 L420.72,180.90 L421.09,181.15 L421.45,181.41 L421.82,181.66 L422.19,181.91 L422.56,182.17 L422.93,182.43 L423.30,182.68 L423.67,182.94 L424.04,183.20 L424.41,183.46 L424.78,183.72 L425.15,183.98 L425.52,184.24 L425.89,184.50 L426.26,184.77 L426.63,185.03 L427.00,185.29 L427.37,185.56 L427.74,185.83 L428.10,186.09 L428.47,186.36 L428.84,186.63 L429.21,186.90 L429.58,187.17 L429.95,187.44 L430.32,187.71 L430.69,187.99 L431.06,188.26 L431.43,188.54 L431.80,188.81 L432.17,189.09 L432.54,189.37 L432.91,189.65 L433.28,189.93 L433.65,190.21 L434.02,190.49 L434.39,190.78 L434.75,191.06 L435.12,191.35 L435.49,191.63 L435.86,191.92 L436.23,192.21 L436.60,192.50 L436.97,192.79 L437.34,193.08 L437.71,193.38 L438.08,193.67 L438.45,193.97 L438.82,194.26 L439.19,194.56 L439.56,194.86 L439.93,195.16 L440.30,195.47 L440.67,195.77 L441.04,196.07 L441.41,196.38 L441.77,196.69 L442.14,197.00 L442.51,197.31 L442.88,197.62 L443.25,197.93 L443.62,198.25 L443.99,198.56 L444.36,198.88 L444.73,199.20 L445.10,199.52 L445.47,199.84 L445.84,200.17 L446.21,200.49 L446.58,200.82 L446.95,201.15 L447.32,201.48 L447.69,201.81 L448.06,202.15 L448.42,202.48 L448.79,202.82 L449.16,203.16 L449.53,203.50 L449.90,203.84 L450.27,204.19 L450.64,204.53 L451.01,204.88 L451.38,205.23 L451.75,205.58 L452.12,205.94 L452.49,206.30 L452.86,206.65 L453.23,207.02 L453.60,207.38 L453.97,207.74 L454.34,208.11 L454.71,208.48 L455.07,208.85 L455.44,209.22 L455.81,209.60 L456.18,209.98 L456.55,210.36 L456.92,210.74 L457.29,211.13 L457.66,211.52 L458.03,211.91 L458.40,212.30 L458.77,212.70 L459.14,213.10 L459.51,213.50 L459.88,213.90 L460.25,214.31 L460.62,214.72 L460.99,215.13 L461.36,215.55 L461.72,215.97 L462.09,216.39 L462.46,216.82 L462.83,217.25 L463.20,217.68 L463.57,218.11 L463.94,218.55 L464.31,218.99 L464.68,219.44 L465.05,219.88 L465.42,220.34 L465.79,220.79 L466.16,221.25 L466.53,221.71 L466.90,222.18 L467.27,222.65 L467.64,223.13 L468.01,223.61 L468.38,224.09 L468.74,224.58 L469.11,225.07 L469.48,225.57 L469.85,226.07 L470.22,226.57 L470.59,227.08 L470.96,227.60 L471.33,228.12 L471.70,228.64 L472.07,229.17 L472.44,229.71 L472.81,230.25 L473.18,230.79 L473.55,231.34 L473.92,231.90 L474.29,232.46 L474.66,233.03 L475.03,233.60 L475.39,234.19 L475.76,234.77 L476.13,235.37 L476.50,235.97 L476.87,236.57 L477.24,237.19 L477.61,237.81 L477.98,238.44 L478.35,239.07 L478.72,239.72 L479.09,240.37 L479.46,241.03 L479.83,241.70 L480.20,242.37 L480.57,243.06 L480.94,243.75 L481.31,244.46 L481.68,245.17 L482.04,245.89 L482.41,246.62 L482.78,247.37 L483.15,248.12 L483.52,248.89 L483.89,249.66 L484.26,250.45 L484.63,251.25 L485.00,252.07 L485.37,252.89 L485.74,253.73 L486.11,254.58 L486.48,255.45 L486.85,256.33 L487.22,257.23 L487.59,258.14 L487.96,259.07 L488.33,260.02 L488.69,260.99 L489.06,261.97 L489.43,262.97 L489.80,263.99 L490.17,265.03 L490.54,266.10 L490.91,267.19 L491.28,268.30 L491.65,269.43 L492.02,270.59 L492.39,271.78 L492.76,273.00 L493.13,274.24 L493.50,275.52 L493.87,276.83 L494.24,278.17 L494.61,279.55 L494.98,280.97 L495.35,282.43 L495.71,283.94 L496.08,285.48 L496.45,287.08 L496.82,288.73 L497.19,290.44 L497.56,292.20 L497.93,294.03 L498.30,295.92 L498.67,297.89 L499.04,299.94 L499.41,302.08 L499.78,304.31 L500.15,306.64 L500.52,309.09 L500.89,311.66 L501.26,314.37 L501.63,317.23 L502.00,320.27 L502.36,323.50 L502.73,326.95 L503.10,330.65 L503.47,334.65 L503.47,334.65 L503.63,336.39 L503.77,338.14 L503.91,339.88 L504.05,341.63 L504.18,343.37 L504.31,345.11 L504.44,346.86 L504.56,348.60 L504.67,350.35 L504.78,352.09 L504.89,353.83 L504.99,355.58 L505.09,357.32 L505.19,359.07 L505.29,360.81 L505.38,362.55 L505.46,364.30 L505.55,366.04 L505.63,367.79 L505.71,369.53 L505.78,371.27 L505.86,373.02 L505.93,374.76 L506.00,376.51 L506.06,378.25 L506.13,379.99 L506.19,381.74 L506.25,383.48 L506.31,385.22 L506.36,386.97 L506.42,388.71 L506.47,390.46 L506.52,392.20 L506.57,393.94 L506.62,395.69 L506.66,396.13 L506.70,396.13 L506.75,396.13 L506.79,396.13 L506.83,396.13 L506.87,396.13 L506.90,396.13 L506.94,396.13 L506.97,396.13 L507.01,396.13 L507.04,396.13 L507.07,396.13 L507.10,396.13 L507.13,396.13 L507.16,396.13 L507.18,396.13 L507.21,396.13 L507.23,396.13 L507.26,396.13 L507.28,396.13 L507.30,396.13 L507.33,396.13 L507.35,396.13 L507.37,396.13 L507.39,396.13 L507.41,396.13 L507.42,396.13 L507.44,396.13 L507.46,396.13 L507.48,396.13 L507.49,396.13" stroke="#EDB120" stroke-width="2.9" fill="none" stroke-linejoin="round"/>
<text class="tk" text-anchor="middle" x="59.90" y="397.1">0</text>
<text class="tk" text-anchor="middle" x="104.64" y="397.1">0.1</text>
<text class="tk" text-anchor="middle" x="149.39" y="397.1">0.2</text>
<text class="tk" text-anchor="middle" x="194.13" y="397.1">0.3</text>
<text class="tk" text-anchor="middle" x="238.88" y="397.1">0.4</text>
<text class="tk" text-anchor="middle" x="283.62" y="397.1">0.5</text>
<text class="tk" text-anchor="middle" x="328.37" y="397.1">0.6</text>
<text class="tk" text-anchor="middle" x="373.11" y="397.1">0.7</text>
<text class="tk" text-anchor="middle" x="417.86" y="397.1">0.8</text>
<text class="tk" text-anchor="middle" x="462.60" y="397.1">0.9</text>
<text class="tk" text-anchor="end" x="54.5" y="30.00">100</text>
<text class="tk" text-anchor="end" x="54.5" y="78.32">50</text>
<text class="tk" text-anchor="end" x="54.5" y="126.63">0</text>
<text class="tk" text-anchor="end" x="54.5" y="174.95">-50</text>
<text class="tk" text-anchor="end" x="54.5" y="223.26">-100</text>
<text class="tk" text-anchor="end" x="54.5" y="271.58">-150</text>
<text class="tk" text-anchor="end" x="54.5" y="319.89">-200</text>
<text class="tk" text-anchor="end" x="54.5" y="368.21">-250</text>
<text class="ti" text-anchor="middle" x="283.2" y="16.5" textLength="523" lengthAdjust="spacingAndGlyphs">Lowpass Filter Frequency Response: Butterworth V.S. Chebyshev Type I</text>
<text class="lb" text-anchor="middle" x="284.0" y="418.2">Normalized Frequency (<tspan class="tx" dx="1.2" dy="1.0">×</tspan><tspan class="pi" dx="1.2" dy="-1.0">π</tspan><tspan dx="0.4"> rad/sample)</tspan></text>
<text class="lb yl" text-anchor="middle" transform="translate(18,200.45000000000002) rotate(-90)">Magnitude (dB)</text>
<rect x="404" y="35.5" width="93" height="36" fill="#fff" stroke="#383838" stroke-width="1"/>
<path d="M408.1,44.6h40.8" stroke="#0072BD" stroke-width="2.9"/>
<text class="lg" x="452.5" y="49.9">Butter</text>
<path d="M408.1,62.1h40.8" stroke="#EDB120" stroke-width="2.9"/>
<text class="lg" x="452.5" y="67.4">cheby1</text>
<text class="cp" y="458.6"><tspan class="cpp" x="258.9" dy="1.6">(</tspan><tspan class="cpb" x="268.3" dy="-1.6">a</tspan><tspan class="cpp" x="280.3" dy="1.6">)</tspan></text>
<clipPath id="c1"><rect x="59.9" y="506.7" width="448.4" height="354.0"/></clipPath>
<path d="M124.86,507.3V860.0M188.71,507.3V860.0M252.57,507.3V860.0M316.43,507.3V860.0M380.29,507.3V860.0M444.14,507.3V860.0" stroke="#000" stroke-opacity="0.16" stroke-width="0.85" fill="none"/>
<path d="M60.5,542.57H507.5M60.5,577.84H507.5M60.5,613.11H507.5M60.5,648.38H507.5M60.5,683.65H507.5M60.5,718.92H507.5M60.5,754.19H507.5M60.5,789.46H507.5M60.5,824.73H507.5" stroke="#000" stroke-opacity="0.16" stroke-width="0.85" fill="none"/>
<path d="M124.86,860.0v-3.4M124.86,507.3v3.4M188.71,860.0v-3.4M188.71,507.3v3.4M252.57,860.0v-3.4M252.57,507.3v3.4M316.43,860.0v-3.4M316.43,507.3v3.4M380.29,860.0v-3.4M380.29,507.3v3.4M444.14,860.0v-3.4M444.14,507.3v3.4M60.5,542.57h3.4M507.5,542.57h-3.4M60.5,577.84h3.4M507.5,577.84h-3.4M60.5,613.11h3.4M507.5,613.11h-3.4M60.5,648.38h3.4M507.5,648.38h-3.4M60.5,683.65h3.4M507.5,683.65h-3.4M60.5,718.92h3.4M507.5,718.92h-3.4M60.5,754.19h3.4M507.5,754.19h-3.4M60.5,789.46h3.4M507.5,789.46h-3.4M60.5,824.73h3.4M507.5,824.73h-3.4" stroke="#383838" stroke-width="1" fill="none"/>
<rect x="60.5" y="507.3" width="447.0" height="352.7" fill="none" stroke="#383838" stroke-width="1.2"/>
<path clip-path="url(#c1)" d="M60.30,683.65 L60.83,683.65 L61.35,683.65 L61.88,683.65 L62.41,683.65 L62.94,683.65 L63.46,683.65 L63.99,683.65 L64.52,683.65 L65.05,683.65 L65.57,683.65 L66.10,683.65 L66.63,683.65 L67.15,683.65 L67.68,683.65 L68.21,683.65 L68.74,683.65 L69.26,683.65 L69.79,683.65 L70.32,683.65 L70.85,683.65 L71.37,683.65 L71.90,683.65 L72.43,683.65 L72.95,683.65 L73.48,683.65 L74.01,683.65 L74.54,683.65 L75.06,683.65 L75.59,683.65 L76.12,683.65 L76.65,683.65 L77.17,683.65 L77.70,683.65 L78.23,683.65 L78.75,683.65 L79.28,683.65 L79.81,683.65 L80.34,683.65 L80.86,683.65 L81.39,683.65 L81.92,683.65 L82.44,683.65 L82.97,683.65 L83.50,683.65 L84.03,683.65 L84.55,683.65 L85.08,683.65 L85.61,683.65 L86.14,683.65 L86.66,683.65 L87.19,683.65 L87.72,683.65 L88.24,683.65 L88.77,683.65 L89.30,683.65 L89.83,683.65 L90.35,683.65 L90.88,683.65 L91.41,683.65 L91.94,683.65 L92.46,683.65 L92.99,683.65 L93.52,683.65 L94.04,683.65 L94.57,683.65 L95.10,683.65 L95.63,683.65 L96.15,683.65 L96.68,683.65 L97.21,683.65 L97.74,683.65 L98.26,683.65 L98.79,683.65 L99.32,683.65 L99.84,683.65 L100.37,683.65 L100.90,683.65 L101.43,683.65 L101.95,683.65 L102.48,683.65 L103.01,683.65 L103.54,683.65 L104.06,683.65 L104.59,683.65 L105.12,683.65 L105.64,683.65 L106.17,683.65 L106.70,683.65 L107.23,683.65 L107.75,683.65 L108.28,683.65 L108.81,683.65 L109.34,683.65 L109.86,683.65 L110.39,683.65 L110.92,683.65 L111.44,683.65 L111.97,683.65 L112.50,683.65 L113.03,683.65 L113.55,683.65 L114.08,683.65 L114.61,683.65 L115.14,683.65 L115.66,683.65 L116.19,683.65 L116.72,683.65 L117.24,683.65 L117.77,683.65 L118.30,683.65 L118.83,683.65 L119.35,683.65 L119.88,683.65 L120.41,683.65 L120.93,683.65 L121.46,683.65 L121.99,683.65 L122.52,683.65 L123.04,683.65 L123.57,683.65 L124.10,683.65 L124.63,683.65 L125.15,683.65 L125.68,683.65 L126.21,683.65 L126.73,683.65 L127.26,683.65 L127.79,683.65 L128.32,683.65 L128.84,683.65 L129.37,683.65 L129.90,683.65 L130.43,683.65 L130.95,683.65 L131.48,683.65 L132.01,683.65 L132.53,683.65 L133.06,683.65 L133.59,683.65 L134.12,683.65 L134.64,683.65 L135.17,683.65 L135.70,683.65 L136.23,683.65 L136.75,683.65 L137.28,683.65 L137.81,683.65 L138.33,683.65 L138.86,683.65 L139.39,683.65 L139.92,683.65 L140.44,683.65 L140.97,683.65 L141.50,683.65 L142.03,683.65 L142.55,683.65 L143.08,683.65 L143.61,683.65 L144.13,683.65 L144.66,683.65 L145.19,683.65 L145.72,683.65 L146.24,683.65 L146.77,683.65 L147.30,683.65 L147.83,683.65 L148.35,683.65 L148.88,683.65 L149.41,683.65 L149.93,683.65 L150.46,683.65 L150.99,683.65 L151.52,683.65 L152.04,683.65 L152.57,683.65 L153.10,683.65 L153.63,683.65 L154.15,683.65 L154.68,683.65 L155.21,683.65 L155.73,683.65 L156.26,683.65 L156.79,683.65 L157.32,683.65 L157.84,683.65 L158.37,683.65 L158.90,683.65 L159.43,683.65 L159.95,683.65 L160.48,683.65 L161.01,683.65 L161.53,683.65 L162.06,683.65 L162.59,683.65 L163.12,683.65 L163.64,683.65 L164.17,683.65 L164.70,683.65 L165.22,683.65 L165.75,683.65 L166.28,683.65 L166.81,683.65 L167.33,683.65 L167.86,683.65 L168.39,683.65 L168.92,683.65 L169.44,683.65 L169.97,683.65 L170.50,683.65 L171.02,683.65 L171.55,683.65 L172.08,683.65 L172.61,683.65 L173.13,683.65 L173.66,683.65 L174.19,683.65 L174.72,683.65 L175.24,683.65 L175.77,683.65 L176.30,683.65 L176.82,683.65 L177.35,683.65 L177.88,683.65 L178.41,683.65 L178.93,683.65 L179.46,683.65 L179.99,683.65 L180.52,683.65 L181.04,683.65 L181.57,683.65 L182.10,683.65 L182.62,683.65 L183.15,683.65 L183.68,683.65 L184.21,683.65 L184.73,683.65 L185.26,683.65 L185.79,683.65 L186.32,683.65 L186.84,683.65 L187.37,683.65 L187.90,683.65 L188.42,683.65 L188.95,683.65 L189.48,683.65 L190.01,683.65 L190.53,683.65 L191.06,683.65 L191.59,683.65 L192.12,683.65 L192.64,683.65 L193.17,683.65 L193.70,683.65 L194.22,683.65 L194.75,683.65 L195.28,683.65 L195.81,683.65 L196.33,683.65 L196.86,683.65 L197.39,683.65 L197.92,683.65 L198.44,683.65 L198.97,683.65 L199.50,683.65 L200.02,683.65 L200.55,683.65 L201.08,683.65 L201.61,683.65 L202.13,683.65 L202.66,683.65 L203.19,683.65 L203.71,683.65 L204.24,683.65 L204.77,683.65 L205.30,683.65 L205.82,683.65 L206.35,683.65 L206.88,683.65 L207.41,683.65 L207.93,683.65 L208.46,683.65 L208.99,683.65 L209.51,683.65 L210.04,683.65 L210.57,683.65 L211.10,683.65 L211.62,683.65 L212.15,683.65 L212.68,683.65 L213.21,683.65 L213.73,683.65 L214.26,683.65 L214.79,683.65 L215.31,683.65 L215.84,683.65 L216.37,683.65 L216.90,683.65 L217.42,683.65 L217.95,683.65 L218.48,683.65 L219.01,683.65 L219.53,683.65 L220.06,683.65 L220.59,683.65 L221.11,683.65 L221.64,683.65 L222.17,683.65 L222.70,683.65 L223.22,683.65 L223.75,683.65 L224.28,683.65 L224.81,683.65 L225.33,683.65 L225.86,683.65 L226.39,683.65 L226.91,683.65 L227.44,683.65 L227.97,683.65 L228.50,683.65 L229.02,683.65 L229.55,683.65 L230.08,683.65 L230.61,683.65 L231.13,683.65 L231.66,683.65 L232.19,683.65 L232.71,683.65 L233.24,683.65 L233.77,683.65 L234.30,683.65 L234.82,683.65 L235.35,683.65 L235.88,683.65 L236.41,683.65 L236.93,683.65 L237.46,683.65 L237.99,683.65 L238.51,683.65 L239.04,683.65 L239.57,683.65 L240.10,683.65 L240.62,683.65 L241.15,683.65 L241.68,683.65 L242.20,683.65 L242.73,683.65 L243.26,683.65 L243.79,683.65 L244.31,683.65 L244.84,683.65 L245.37,683.65 L245.90,683.65 L246.42,683.65 L246.95,683.65 L247.48,683.65 L248.00,683.65 L248.53,683.65 L249.06,683.65 L249.59,683.65 L250.11,683.65 L250.64,683.65 L251.17,683.65 L251.70,683.65 L252.22,683.65 L252.75,683.65 L253.28,683.65 L253.80,683.65 L254.33,683.65 L254.86,683.65 L255.39,683.65 L255.91,683.65 L256.44,683.65 L256.97,683.65 L257.50,683.65 L258.02,683.65 L258.55,683.65 L259.08,683.65 L259.60,683.65 L260.13,683.65 L260.66,683.65 L261.19,683.65 L261.71,683.65 L262.24,683.65 L262.77,683.65 L263.30,683.65 L263.82,683.65 L264.35,683.65 L264.88,683.65 L265.40,683.65 L265.93,683.65 L266.46,683.65 L266.99,683.65 L267.51,683.65 L268.04,683.65 L268.57,683.65 L269.10,683.65 L269.62,683.65 L270.15,683.65 L270.68,683.65 L271.20,683.65 L271.73,683.65 L272.26,683.65 L272.79,683.65 L273.31,683.65 L273.84,683.65 L274.37,683.65 L274.90,683.66 L275.42,683.66 L275.95,683.66 L276.48,683.66 L277.00,683.66 L277.53,683.66 L278.06,683.66 L278.59,683.66 L279.11,683.66 L279.64,683.66 L280.17,683.66 L280.70,683.66 L281.22,683.66 L281.75,683.66 L282.28,683.66 L282.80,683.66 L283.33,683.66 L283.86,683.66 L284.39,683.66 L284.91,683.66 L285.44,683.66 L285.97,683.66 L286.49,683.66 L287.02,683.66 L287.55,683.66 L288.08,683.66 L288.60,683.66 L289.13,683.66 L289.66,683.66 L290.19,683.66 L290.71,683.66 L291.24,683.67 L291.77,683.67 L292.29,683.67 L292.82,683.67 L293.35,683.67 L293.88,683.67 L294.40,683.67 L294.93,683.67 L295.46,683.67 L295.99,683.67 L296.51,683.67 L297.04,683.67 L297.57,683.67 L298.09,683.67 L298.62,683.67 L299.15,683.68 L299.68,683.68 L300.20,683.68 L300.73,683.68 L301.26,683.68 L301.79,683.68 L302.31,683.68 L302.84,683.68 L303.37,683.68 L303.89,683.68 L304.42,683.69 L304.95,683.69 L305.48,683.69 L306.00,683.69 L306.53,683.69 L307.06,683.69 L307.59,683.69 L308.11,683.69 L308.64,683.70 L309.17,683.70 L309.69,683.70 L310.22,683.70 L310.75,683.70 L311.28,683.70 L311.80,683.71 L312.33,683.71 L312.86,683.71 L313.39,683.71 L313.91,683.71 L314.44,683.72 L314.97,683.72 L315.49,683.72 L316.02,683.72 L316.55,683.73 L317.08,683.73 L317.60,683.73 L318.13,683.73 L318.66,683.74 L319.19,683.74 L319.71,683.74 L320.24,683.74 L320.77,683.75 L321.29,683.75 L321.82,683.75 L322.35,683.76 L322.88,683.76 L323.40,683.77 L323.93,683.77 L324.46,683.77 L324.98,683.78 L325.51,683.78 L326.04,683.79 L326.57,683.79 L327.09,683.79 L327.62,683.80 L328.15,683.80 L328.68,683.81 L329.20,683.81 L329.73,683.82 L330.26,683.82 L330.78,683.83 L331.31,683.84 L331.84,683.84 L332.37,683.85 L332.89,683.86 L333.42,683.86 L333.95,683.87 L334.48,683.88 L335.00,683.88 L335.53,683.89 L336.06,683.90 L336.58,683.91 L337.11,683.91 L337.64,683.92 L338.17,683.93 L338.69,683.94 L339.22,683.95 L339.75,683.96 L340.28,683.97 L340.80,683.98 L341.33,683.99 L341.86,684.00 L342.38,684.01 L342.91,684.03 L343.44,684.04 L343.97,684.05 L344.49,684.06 L345.02,684.08 L345.55,684.09 L346.08,684.10 L346.60,684.12 L347.13,684.13 L347.66,684.15 L348.18,684.16 L348.71,684.18 L349.24,684.20 L349.77,684.22 L350.29,684.23 L350.82,684.25 L351.35,684.27 L351.88,684.29 L352.40,684.31 L352.93,684.33 L353.46,684.35 L353.98,684.38 L354.51,684.40 L355.04,684.42 L355.57,684.45 L356.09,684.47 L356.62,684.50 L357.15,684.53 L357.68,684.55 L358.20,684.58 L358.73,684.61 L359.26,684.64 L359.78,684.67 L360.31,684.71 L360.84,684.74 L361.37,684.77 L361.89,684.81 L362.42,684.85 L362.95,684.88 L363.47,684.92 L364.00,684.96 L364.53,685.01 L365.06,685.05 L365.58,685.09 L366.11,685.14 L366.64,685.18 L367.17,685.23 L367.69,685.28 L368.22,685.33 L368.75,685.39 L369.27,685.44 L369.80,685.50 L370.33,685.56 L370.86,685.62 L371.38,685.68 L371.91,685.74 L372.44,685.81 L372.97,685.88 L373.49,685.95 L374.02,686.02 L374.55,686.09 L375.07,686.17 L375.60,686.25 L376.13,686.33 L376.66,686.41 L377.18,686.50 L377.71,686.59 L378.24,686.68 L378.77,686.78 L379.29,686.87 L379.82,686.97 L380.35,687.08 L380.87,687.18 L381.40,687.30 L381.93,687.41 L382.46,687.53 L382.98,687.65 L383.51,687.77 L384.04,687.90 L384.57,688.03 L385.09,688.17 L385.62,688.31 L386.15,688.46 L386.67,688.61 L387.20,688.76 L387.73,688.92 L388.26,689.08 L388.78,689.25 L389.31,689.42 L389.84,689.60 L390.37,689.79 L390.89,689.98 L391.42,690.18 L391.95,690.38 L392.47,690.59 L393.00,690.80 L393.53,691.02 L394.06,691.25 L394.58,691.49 L395.11,691.73 L395.64,691.98 L396.17,692.23 L396.69,692.50 L397.22,692.77 L397.75,693.05 L398.27,693.34 L398.80,693.64 L399.33,693.95 L399.86,694.26 L400.38,694.59 L400.91,694.92 L401.44,695.27 L401.97,695.62 L402.49,695.99 L403.02,696.37 L403.55,696.75 L404.07,697.15 L404.60,697.56 L405.13,697.99 L405.66,698.42 L406.18,698.87 L406.71,699.33 L407.24,699.81 L407.76,700.30 L408.29,700.80 L408.82,701.32 L409.35,701.85 L409.87,702.40 L410.40,702.96 L410.93,703.54 L411.46,704.14 L411.98,704.75 L412.51,705.38 L413.04,706.03 L413.56,706.69 L414.09,707.38 L414.62,708.08 L415.15,708.80 L415.67,709.55 L416.20,710.31 L416.73,711.10 L417.26,711.90 L417.78,712.73 L418.31,713.58 L418.84,714.45 L419.36,715.35 L419.89,716.27 L420.42,717.22 L420.95,718.19 L421.47,719.18 L422.00,720.20 L422.53,721.25 L423.06,722.33 L423.58,723.43 L424.11,724.56 L424.64,725.72 L425.16,726.91 L425.69,728.13 L426.22,729.38 L426.75,730.65 L427.27,731.97 L427.80,733.31 L428.33,734.68 L428.86,736.09 L429.38,737.53 L429.91,739.00 L430.44,740.51 L430.96,742.06 L431.49,743.64 L432.02,745.25 L432.55,746.90 L433.07,748.59 L433.60,750.31 L434.13,752.08 L434.66,753.88 L435.18,755.72 L435.71,757.59 L436.24,759.51 L436.76,761.47 L437.29,763.47 L437.82,765.50 L438.35,767.58 L438.87,769.70 L439.40,771.86 L439.93,774.06 L440.46,776.31 L440.98,778.59 L441.51,780.92 L442.04,783.29 L442.56,785.71 L443.09,788.16 L443.62,790.66 L444.15,793.20 L444.67,795.79 L445.20,798.42 L445.73,801.09 L446.25,803.81 L446.78,806.57 L447.31,809.37 L447.84,812.22 L448.36,815.11 L448.89,818.04 L449.42,821.02 L449.95,824.04 L450.47,827.10 L451.00,830.21 L451.53,833.36 L452.05,836.55 L452.58,839.78 L453.11,843.06 L453.64,846.38 L454.16,849.74 L454.69,853.14 L455.22,856.58 L455.75,860.06 L456.27,863.59 L456.80,867.15 L457.33,870.76 L457.85,874.40 L458.38,878.09 L458.91,881.81 L459.44,885.57 L459.96,889.37 L460.49,893.20 L461.02,897.08 L461.55,900.99 L462.07,904.94 L462.60,908.92 L463.13,912.94 L463.65,916.99 L464.18,921.08 L464.71,925.21 L465.24,929.37 L465.76,933.56 L466.29,937.78 L466.82,942.04 L467.35,946.33 L467.87,950.65 L468.40,955.00 L468.93,959.38 L469.45,963.79 L469.98,968.24 L470.51,972.71 L471.04,977.21 L471.56,981.74 L472.09,986.30 L472.62,990.89 L473.15,995.50 L473.67,1000.14 L474.20,1004.81 L474.73,1009.50 L475.25,1014.22 L475.78,1018.96 L476.31,1023.73 L476.84,1028.53 L477.36,1033.34 L477.89,1038.19 L478.42,1043.05 L478.95,1047.94 L479.47,1052.85 L480.00,1057.78 L480.53,1062.74 L481.05,1067.72 L481.58,1072.72 L482.11,1077.74 L482.64,1082.78 L483.16,1087.84 L483.69,1092.92 L484.22,1098.02 L484.74,1103.14 L485.27,1108.28 L485.80,1113.44 L486.33,1118.62 L486.85,1123.82 L487.38,1129.04 L487.91,1134.27 L488.44,1139.52 L488.96,1144.79 L489.49,1150.08 L490.02,1155.39 L490.54,1160.71 L491.07,1166.05 L491.60,1171.41 L492.13,1176.78 L492.65,1182.17 L493.18,1187.58 L493.71,1193.00 L494.24,1198.44 L494.76,1203.89 L495.29,1209.36 L495.82,1214.84 L496.34,1220.35 L496.87,1225.86 L497.40,1231.39 L497.93,1236.94 L498.45,1242.50 L498.98,1248.08 L499.51,1253.67 L500.04,1259.28 L500.56,1264.90 L501.09,1270.53 L501.62,1276.19 L502.14,1281.85 L502.67,1287.53 L503.20,1293.22 L503.73,1298.93 L504.25,1304.65 L504.78,1310.39 L505.31,1316.14 L505.84,1321.91 L506.36,1327.69 L506.89,1333.48" stroke="#0072BD" stroke-width="2.9" fill="none" stroke-linejoin="round"/>
<path clip-path="url(#c1)" d="M60.30,703.75 L60.83,703.75 L61.35,703.75 L61.88,703.75 L62.41,703.74 L62.94,703.74 L63.46,703.73 L63.99,703.72 L64.52,703.72 L65.05,703.71 L65.57,703.69 L66.10,703.68 L66.63,703.67 L67.15,703.65 L67.68,703.64 L68.21,703.62 L68.74,703.60 L69.26,703.58 L69.79,703.56 L70.32,703.54 L70.85,703.51 L71.37,703.49 L71.90,703.46 L72.43,703.44 L72.95,703.41 L73.48,703.38 L74.01,703.35 L74.54,703.32 L75.06,703.28 L75.59,703.25 L76.12,703.22 L76.65,703.18 L77.17,703.14 L77.70,703.10 L78.23,703.06 L78.75,703.02 L79.28,702.98 L79.81,702.94 L80.34,702.89 L80.86,702.85 L81.39,702.80 L81.92,702.75 L82.44,702.71 L82.97,702.66 L83.50,702.60 L84.03,702.55 L84.55,702.50 L85.08,702.44 L85.61,702.39 L86.14,702.33 L86.66,702.28 L87.19,702.22 L87.72,702.16 L88.24,702.10 L88.77,702.04 L89.30,701.97 L89.83,701.91 L90.35,701.84 L90.88,701.78 L91.41,701.71 L91.94,701.64 L92.46,701.57 L92.99,701.50 L93.52,701.43 L94.04,701.36 L94.57,701.29 L95.10,701.21 L95.63,701.14 L96.15,701.06 L96.68,700.99 L97.21,700.91 L97.74,700.83 L98.26,700.75 L98.79,700.67 L99.32,700.59 L99.84,700.51 L100.37,700.42 L100.90,700.34 L101.43,700.25 L101.95,700.17 L102.48,700.08 L103.01,699.99 L103.54,699.90 L104.06,699.82 L104.59,699.73 L105.12,699.63 L105.64,699.54 L106.17,699.45 L106.70,699.36 L107.23,699.26 L107.75,699.17 L108.28,699.07 L108.81,698.97 L109.34,698.88 L109.86,698.78 L110.39,698.68 L110.92,698.58 L111.44,698.48 L111.97,698.38 L112.50,698.28 L113.03,698.18 L113.55,698.07 L114.08,697.97 L114.61,697.87 L115.14,697.76 L115.66,697.66 L116.19,697.55 L116.72,697.44 L117.24,697.34 L117.77,697.23 L118.30,697.12 L118.83,697.01 L119.35,696.90 L119.88,696.79 L120.41,696.68 L120.93,696.57 L121.46,696.46 L121.99,696.35 L122.52,696.24 L123.04,696.12 L123.57,696.01 L124.10,695.90 L124.63,695.78 L125.15,695.67 L125.68,695.55 L126.21,695.44 L126.73,695.32 L127.26,695.21 L127.79,695.09 L128.32,694.98 L128.84,694.86 L129.37,694.74 L129.90,694.63 L130.43,694.51 L130.95,694.39 L131.48,694.27 L132.01,694.16 L132.53,694.04 L133.06,693.92 L133.59,693.80 L134.12,693.68 L134.64,693.56 L135.17,693.45 L135.70,693.33 L136.23,693.21 L136.75,693.09 L137.28,692.97 L137.81,692.85 L138.33,692.73 L138.86,692.61 L139.39,692.49 L139.92,692.37 L140.44,692.26 L140.97,692.14 L141.50,692.02 L142.03,691.90 L142.55,691.78 L143.08,691.66 L143.61,691.55 L144.13,691.43 L144.66,691.31 L145.19,691.19 L145.72,691.07 L146.24,690.96 L146.77,690.84 L147.30,690.72 L147.83,690.61 L148.35,690.49 L148.88,690.38 L149.41,690.26 L149.93,690.15 L150.46,690.03 L150.99,689.92 L151.52,689.81 L152.04,689.69 L152.57,689.58 L153.10,689.47 L153.63,689.36 L154.15,689.25 L154.68,689.14 L155.21,689.03 L155.73,688.92 L156.26,688.81 L156.79,688.70 L157.32,688.59 L157.84,688.49 L158.37,688.38 L158.90,688.27 L159.43,688.17 L159.95,688.06 L160.48,687.96 L161.01,687.86 L161.53,687.76 L162.06,687.66 L162.59,687.56 L163.12,687.46 L163.64,687.36 L164.17,687.26 L164.70,687.17 L165.22,687.07 L165.75,686.97 L166.28,686.88 L166.81,686.79 L167.33,686.70 L167.86,686.61 L168.39,686.52 L168.92,686.43 L169.44,686.34 L169.97,686.25 L170.50,686.17 L171.02,686.08 L171.55,686.00 L172.08,685.92 L172.61,685.84 L173.13,685.76 L173.66,685.68 L174.19,685.60 L174.72,685.53 L175.24,685.45 L175.77,685.38 L176.30,685.31 L176.82,685.24 L177.35,685.17 L177.88,685.10 L178.41,685.03 L178.93,684.97 L179.46,684.90 L179.99,684.84 L180.52,684.78 L181.04,684.72 L181.57,684.66 L182.10,684.60 L182.62,684.55 L183.15,684.49 L183.68,684.44 L184.21,684.39 L184.73,684.34 L185.26,684.30 L185.79,684.25 L186.32,684.21 L186.84,684.16 L187.37,684.12 L187.90,684.08 L188.42,684.04 L188.95,684.01 L189.48,683.97 L190.01,683.94 L190.53,683.91 L191.06,683.88 L191.59,683.85 L192.12,683.83 L192.64,683.80 L193.17,683.78 L193.70,683.76 L194.22,683.74 L194.75,683.72 L195.28,683.71 L195.81,683.69 L196.33,683.68 L196.86,683.67 L197.39,683.66 L197.92,683.66 L198.44,683.65 L198.97,683.65 L199.50,683.65 L200.02,683.65 L200.55,683.65 L201.08,683.66 L201.61,683.67 L202.13,683.67 L202.66,683.69 L203.19,683.70 L203.71,683.71 L204.24,683.73 L204.77,683.75 L205.30,683.77 L205.82,683.79 L206.35,683.81 L206.88,683.84 L207.41,683.87 L207.93,683.90 L208.46,683.93 L208.99,683.96 L209.51,684.00 L210.04,684.04 L210.57,684.08 L211.10,684.12 L211.62,684.16 L212.15,684.21 L212.68,684.25 L213.21,684.30 L213.73,684.35 L214.26,684.41 L214.79,684.46 L215.31,684.52 L215.84,684.58 L216.37,684.64 L216.90,684.70 L217.42,684.76 L217.95,684.83 L218.48,684.90 L219.01,684.97 L219.53,685.04 L220.06,685.11 L220.59,685.19 L221.11,685.27 L221.64,685.35 L222.17,685.43 L222.70,685.51 L223.22,685.60 L223.75,685.68 L224.28,685.77 L224.81,685.86 L225.33,685.95 L225.86,686.05 L226.39,686.14 L226.91,686.24 L227.44,686.34 L227.97,686.44 L228.50,686.54 L229.02,686.64 L229.55,686.75 L230.08,686.85 L230.61,686.96 L231.13,687.07 L231.66,687.18 L232.19,687.30 L232.71,687.41 L233.24,687.53 L233.77,687.65 L234.30,687.76 L234.82,687.89 L235.35,688.01 L235.88,688.13 L236.41,688.26 L236.93,688.38 L237.46,688.51 L237.99,688.64 L238.51,688.77 L239.04,688.90 L239.57,689.03 L240.10,689.16 L240.62,689.30 L241.15,689.44 L241.68,689.57 L242.20,689.71 L242.73,689.85 L243.26,689.99 L243.79,690.13 L244.31,690.27 L244.84,690.42 L245.37,690.56 L245.90,690.71 L246.42,690.85 L246.95,691.00 L247.48,691.15 L248.00,691.30 L248.53,691.45 L249.06,691.60 L249.59,691.75 L250.11,691.90 L250.64,692.05 L251.17,692.20 L251.70,692.35 L252.22,692.51 L252.75,692.66 L253.28,692.82 L253.80,692.97 L254.33,693.13 L254.86,693.28 L255.39,693.44 L255.91,693.60 L256.44,693.75 L256.97,693.91 L257.50,694.07 L258.02,694.22 L258.55,694.38 L259.08,694.54 L259.60,694.69 L260.13,694.85 L260.66,695.01 L261.19,695.17 L261.71,695.32 L262.24,695.48 L262.77,695.64 L263.30,695.79 L263.82,695.95 L264.35,696.10 L264.88,696.26 L265.40,696.41 L265.93,696.57 L266.46,696.72 L266.99,696.87 L267.51,697.03 L268.04,697.18 L268.57,697.33 L269.10,697.48 L269.62,697.63 L270.15,697.78 L270.68,697.93 L271.20,698.08 L271.73,698.22 L272.26,698.37 L272.79,698.51 L273.31,698.66 L273.84,698.80 L274.37,698.94 L274.90,699.08 L275.42,699.22 L275.95,699.36 L276.48,699.49 L277.00,699.63 L277.53,699.76 L278.06,699.90 L278.59,700.03 L279.11,700.16 L279.64,700.28 L280.17,700.41 L280.70,700.53 L281.22,700.66 L281.75,700.78 L282.28,700.90 L282.80,701.01 L283.33,701.13 L283.86,701.24 L284.39,701.36 L284.91,701.46 L285.44,701.57 L285.97,701.68 L286.49,701.78 L287.02,701.88 L287.55,701.98 L288.08,702.08 L288.60,702.17 L289.13,702.27 L289.66,702.36 L290.19,702.44 L290.71,702.53 L291.24,702.61 L291.77,702.69 L292.29,702.77 L292.82,702.84 L293.35,702.92 L293.88,702.98 L294.40,703.05 L294.93,703.12 L295.46,703.18 L295.99,703.23 L296.51,703.29 L297.04,703.34 L297.57,703.39 L298.09,703.44 L298.62,703.48 L299.15,703.52 L299.68,703.56 L300.20,703.59 L300.73,703.62 L301.26,703.65 L301.79,703.68 L302.31,703.70 L302.84,703.72 L303.37,703.73 L303.89,703.74 L304.42,703.75 L304.95,703.75 L305.48,703.75 L306.00,703.75 L306.53,703.74 L307.06,703.74 L307.59,703.72 L308.11,703.70 L308.64,703.68 L309.17,703.66 L309.69,703.63 L310.22,703.60 L310.75,703.57 L311.28,703.53 L311.80,703.48 L312.33,703.44 L312.86,703.39 L313.39,703.33 L313.91,703.27 L314.44,703.21 L314.97,703.15 L315.49,703.08 L316.02,703.00 L316.55,702.93 L317.08,702.85 L317.60,702.76 L318.13,702.67 L318.66,702.58 L319.19,702.48 L319.71,702.38 L320.24,702.28 L320.77,702.17 L321.29,702.06 L321.82,701.94 L322.35,701.82 L322.88,701.70 L323.40,701.57 L323.93,701.44 L324.46,701.30 L324.98,701.16 L325.51,701.02 L326.04,700.87 L326.57,700.72 L327.09,700.57 L327.62,700.41 L328.15,700.25 L328.68,700.08 L329.20,699.91 L329.73,699.74 L330.26,699.57 L330.78,699.39 L331.31,699.20 L331.84,699.02 L332.37,698.83 L332.89,698.64 L333.42,698.44 L333.95,698.24 L334.48,698.04 L335.00,697.83 L335.53,697.63 L336.06,697.41 L336.58,697.20 L337.11,696.98 L337.64,696.77 L338.17,696.54 L338.69,696.32 L339.22,696.09 L339.75,695.86 L340.28,695.63 L340.80,695.40 L341.33,695.17 L341.86,694.93 L342.38,694.69 L342.91,694.45 L343.44,694.21 L343.97,693.96 L344.49,693.72 L345.02,693.47 L345.55,693.23 L346.08,692.98 L346.60,692.73 L347.13,692.48 L347.66,692.23 L348.18,691.98 L348.71,691.74 L349.24,691.49 L349.77,691.24 L350.29,690.99 L350.82,690.74 L351.35,690.49 L351.88,690.25 L352.40,690.00 L352.93,689.76 L353.46,689.52 L353.98,689.28 L354.51,689.04 L355.04,688.80 L355.57,688.57 L356.09,688.33 L356.62,688.11 L357.15,687.88 L357.68,687.66 L358.20,687.44 L358.73,687.22 L359.26,687.01 L359.78,686.81 L360.31,686.60 L360.84,686.40 L361.37,686.21 L361.89,686.02 L362.42,685.84 L362.95,685.66 L363.47,685.49 L364.00,685.33 L364.53,685.17 L365.06,685.01 L365.58,684.87 L366.11,684.73 L366.64,684.60 L367.17,684.47 L367.69,684.36 L368.22,684.25 L368.75,684.15 L369.27,684.06 L369.80,683.98 L370.33,683.90 L370.86,683.84 L371.38,683.78 L371.91,683.74 L372.44,683.70 L372.97,683.67 L373.49,683.66 L374.02,683.65 L374.55,683.65 L375.07,683.67 L375.60,683.69 L376.13,683.73 L376.66,683.78 L377.18,683.84 L377.71,683.91 L378.24,683.99 L378.77,684.08 L379.29,684.18 L379.82,684.30 L380.35,684.42 L380.87,684.56 L381.40,684.71 L381.93,684.87 L382.46,685.04 L382.98,685.23 L383.51,685.42 L384.04,685.63 L384.57,685.85 L385.09,686.08 L385.62,686.32 L386.15,686.57 L386.67,686.83 L387.20,687.10 L387.73,687.39 L388.26,687.68 L388.78,687.98 L389.31,688.29 L389.84,688.61 L390.37,688.94 L390.89,689.28 L391.42,689.63 L391.95,689.98 L392.47,690.34 L393.00,690.71 L393.53,691.09 L394.06,691.47 L394.58,691.86 L395.11,692.25 L395.64,692.65 L396.17,693.05 L396.69,693.45 L397.22,693.86 L397.75,694.27 L398.27,694.68 L398.80,695.09 L399.33,695.50 L399.86,695.91 L400.38,696.32 L400.91,696.73 L401.44,697.13 L401.97,697.53 L402.49,697.93 L403.02,698.32 L403.55,698.71 L404.07,699.08 L404.60,699.45 L405.13,699.82 L405.66,700.17 L406.18,700.51 L406.71,700.84 L407.24,701.16 L407.76,701.46 L408.29,701.75 L408.82,702.03 L409.35,702.28 L409.87,702.52 L410.40,702.75 L410.93,702.95 L411.46,703.13 L411.98,703.29 L412.51,703.43 L413.04,703.55 L413.56,703.64 L414.09,703.70 L414.62,703.74 L415.15,703.75 L415.67,703.74 L416.20,703.69 L416.73,703.61 L417.26,703.51 L417.78,703.37 L418.31,703.20 L418.84,702.99 L419.36,702.75 L419.89,702.48 L420.42,702.17 L420.95,701.83 L421.47,701.45 L422.00,701.04 L422.53,700.59 L423.06,700.10 L423.58,699.58 L424.11,699.03 L424.64,698.44 L425.16,697.82 L425.69,697.16 L426.22,696.48 L426.75,695.77 L427.27,695.03 L427.80,694.27 L428.33,693.49 L428.86,692.70 L429.38,691.89 L429.91,691.07 L430.44,690.26 L430.96,689.45 L431.49,688.65 L432.02,687.88 L432.55,687.13 L433.07,686.43 L433.60,685.77 L434.13,685.18 L434.66,684.66 L435.18,684.23 L435.71,683.91 L436.24,683.71 L436.76,683.65 L437.29,683.75 L437.82,684.03 L438.35,684.51 L438.87,685.21 L439.40,686.15 L439.93,687.36 L440.46,688.86 L440.98,690.67 L441.51,692.80 L442.04,695.29 L442.56,698.14 L443.09,701.38 L443.62,705.01 L444.15,709.05 L444.67,713.51 L445.20,718.38 L445.73,723.68 L446.25,729.40 L446.78,735.54 L447.31,742.08 L447.84,749.01 L448.36,756.33 L448.89,764.01 L449.42,772.04 L449.95,780.39 L450.47,789.05 L451.00,797.99 L451.53,807.19 L452.05,816.63 L452.58,826.29 L453.11,836.14 L453.64,846.17 L454.16,856.35 L454.69,866.67 L455.22,877.10 L455.75,887.63 L456.27,898.25 L456.80,908.93 L457.33,919.68 L457.85,930.46 L458.38,941.28 L458.91,952.13 L459.44,962.99 L459.96,973.85 L460.49,984.71 L461.02,995.57 L461.55,1006.41 L462.07,1017.23 L462.60,1028.02 L463.13,1038.79 L463.65,1049.53 L464.18,1060.24 L464.71,1070.91 L465.24,1081.54 L465.76,1092.13 L466.29,1102.67 L466.82,1113.18 L467.35,1123.64 L467.87,1134.05 L468.40,1144.42 L468.93,1154.74 L469.45,1165.01 L469.98,1175.24 L470.51,1185.42 L471.04,1195.55 L471.56,1205.64 L472.09,1215.68 L472.62,1225.68 L473.15,1235.63 L473.67,1245.53 L474.20,1255.39 L474.73,1265.20 L475.25,1274.97 L475.78,1284.70 L476.31,1294.39 L476.84,1304.03 L477.36,1313.63 L477.89,1323.20 L478.42,1332.72 L478.95,1342.20 L479.47,1351.65 L480.00,1361.05 L480.53,1370.42 L481.05,1379.76 L481.58,1389.05 L482.11,1398.32 L482.64,1407.55 L483.16,1416.74 L483.69,1425.90 L484.22,1435.03 L484.74,1444.13 L485.27,1453.20 L485.80,1462.24 L486.33,1471.24 L486.85,1480.22 L487.38,1489.17 L487.91,1498.10 L488.44,1506.99 L488.96,1515.86 L489.49,1524.71 L490.02,1533.52 L490.54,1542.32 L491.07,1551.09 L491.60,1559.83 L492.13,1565.40 L492.65,1565.40 L493.18,1565.40 L493.71,1565.40 L494.24,1565.40 L494.76,1565.40 L495.29,1565.40 L495.82,1565.40 L496.34,1565.40 L496.87,1565.40 L497.40,1565.40 L497.93,1565.40 L498.45,1565.40 L498.98,1565.40 L499.51,1565.40 L500.04,1565.40 L500.56,1565.40 L501.09,1565.40 L501.62,1565.40 L502.14,1565.40 L502.67,1565.40 L503.20,1565.40 L503.73,1565.40 L504.25,1565.40 L504.78,1565.40 L505.31,1565.40 L505.84,1565.40 L506.36,1565.40 L506.89,1565.40" stroke="#EDB120" stroke-width="2.9" fill="none" stroke-linejoin="round"/>
<text class="tk" text-anchor="middle" x="60.40" y="880.8">0</text>
<text class="tk" text-anchor="middle" x="124.26" y="880.8">0.1</text>
<text class="tk" text-anchor="middle" x="188.11" y="880.8">0.2</text>
<text class="tk" text-anchor="middle" x="251.97" y="880.8">0.3</text>
<text class="tk" text-anchor="middle" x="315.83" y="880.8">0.4</text>
<text class="tk" text-anchor="middle" x="379.69" y="880.8">0.5</text>
<text class="tk" text-anchor="middle" x="443.54" y="880.8">0.6</text>
<text class="tk" text-anchor="middle" x="506.90" y="880.8">0.7</text>
<text class="tk" text-anchor="end" x="54.5" y="513.20">5</text>
<text class="tk" text-anchor="end" x="54.5" y="548.47">4</text>
<text class="tk" text-anchor="end" x="54.5" y="583.74">3</text>
<text class="tk" text-anchor="end" x="54.5" y="619.01">2</text>
<text class="tk" text-anchor="end" x="54.5" y="654.28">1</text>
<text class="tk" text-anchor="end" x="54.5" y="689.55">0</text>
<text class="tk" text-anchor="end" x="54.5" y="724.82">-1</text>
<text class="tk" text-anchor="end" x="54.5" y="760.09">-2</text>
<text class="tk" text-anchor="end" x="54.5" y="795.36">-3</text>
<text class="tk" text-anchor="end" x="54.5" y="830.63">-4</text>
<text class="tk" text-anchor="end" x="54.5" y="865.90">-5</text>
<text class="ti" text-anchor="middle" x="283.2" y="499.7" textLength="523" lengthAdjust="spacingAndGlyphs">Lowpass Filter Frequency Response: Butterworth V.S. Chebyshev Type I</text>
<text class="lb" text-anchor="middle" x="284.0" y="902.0">Normalized Frequency (<tspan class="tx" dx="1.2" dy="1.0">×</tspan><tspan class="pi" dx="1.2" dy="-1.0">π</tspan><tspan dx="0.4"> rad/sample)</tspan></text>
<text class="lb yl" text-anchor="middle" transform="translate(34.2,683.65) rotate(-90)">Magnitude (dB)</text>
<rect x="404" y="518.7" width="93" height="36" fill="#fff" stroke="#383838" stroke-width="1"/>
<path d="M408.1,527.8000000000001h40.8" stroke="#0072BD" stroke-width="2.9"/>
<text class="lg" x="452.5" y="533.1">Butter</text>
<path d="M408.1,545.3000000000001h40.8" stroke="#EDB120" stroke-width="2.9"/>
<text class="lg" x="452.5" y="550.6">cheby1</text>
<text class="cp" y="942.3"><tspan class="cpp" x="257.3" dy="1.6">(</tspan><tspan class="cpb" x="266.3" dy="-1.6">b</tspan><tspan class="cpp" x="281.6" dy="1.6">)</tspan></text>
</svg>
</body></html>
